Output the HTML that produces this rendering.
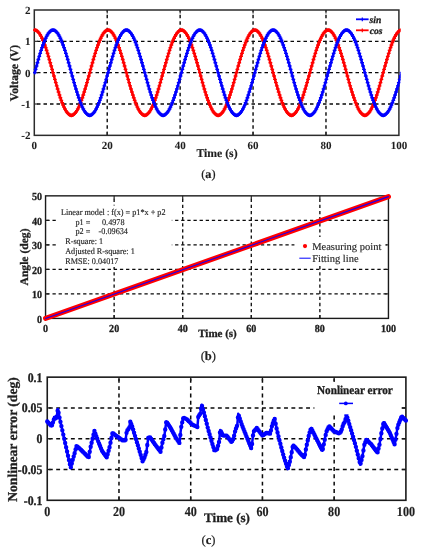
<!DOCTYPE html>
<html><head><meta charset="utf-8"><title>Figure</title>
<style>
html,body{margin:0;padding:0;background:#fff;}
body{width:421px;height:550px;overflow:hidden;}
svg{display:block;filter:blur(0.25px);}
text{font-family:'Liberation Serif', 'Times New Roman', serif;text-rendering:geometricPrecision;}
</style></head>
<body>
<svg width="421" height="550" viewBox="0 0 421 550">
<rect width="421" height="550" fill="#ffffff"/>
<defs><clipPath id="ca"><rect x="33" y="8" width="367.5" height="129"/></clipPath></defs>
<line x1="107.22" y1="135.35" x2="107.22" y2="10" stroke="#0a0a0a" stroke-width="1.4" stroke-dasharray="3.5 3.0" stroke-linecap="butt"/>
<line x1="180.14" y1="135.35" x2="180.14" y2="10" stroke="#0a0a0a" stroke-width="1.4" stroke-dasharray="3.5 3.0" stroke-linecap="butt"/>
<line x1="253.06" y1="135.35" x2="253.06" y2="10" stroke="#0a0a0a" stroke-width="1.4" stroke-dasharray="3.5 3.0" stroke-linecap="butt"/>
<line x1="325.98" y1="135.35" x2="325.98" y2="10" stroke="#0a0a0a" stroke-width="1.4" stroke-dasharray="3.5 3.0" stroke-linecap="butt"/>
<line x1="34.3" y1="41.34" x2="398.9" y2="41.34" stroke="#0a0a0a" stroke-width="1.4" stroke-dasharray="3.5 3.0" stroke-dashoffset="-2.7" stroke-linecap="butt"/>
<line x1="34.3" y1="72.67" x2="398.9" y2="72.67" stroke="#0a0a0a" stroke-width="1.4" stroke-dasharray="3.5 3.0" stroke-dashoffset="-2.7" stroke-linecap="butt"/>
<line x1="34.3" y1="104.01" x2="398.9" y2="104.01" stroke="#0a0a0a" stroke-width="1.4" stroke-dasharray="3.5 3.0" stroke-dashoffset="-2.7" stroke-linecap="butt"/>
<line x1="107.22" y1="135.35" x2="107.22" y2="131.75" stroke="#2c2c2c" stroke-width="1.2000000000000002" stroke-linecap="butt"/>
<line x1="107.22" y1="10" x2="107.22" y2="13.6" stroke="#2c2c2c" stroke-width="1.2000000000000002" stroke-linecap="butt"/>
<line x1="180.14" y1="135.35" x2="180.14" y2="131.75" stroke="#2c2c2c" stroke-width="1.2000000000000002" stroke-linecap="butt"/>
<line x1="180.14" y1="10" x2="180.14" y2="13.6" stroke="#2c2c2c" stroke-width="1.2000000000000002" stroke-linecap="butt"/>
<line x1="253.06" y1="135.35" x2="253.06" y2="131.75" stroke="#2c2c2c" stroke-width="1.2000000000000002" stroke-linecap="butt"/>
<line x1="253.06" y1="10" x2="253.06" y2="13.6" stroke="#2c2c2c" stroke-width="1.2000000000000002" stroke-linecap="butt"/>
<line x1="325.98" y1="135.35" x2="325.98" y2="131.75" stroke="#2c2c2c" stroke-width="1.2000000000000002" stroke-linecap="butt"/>
<line x1="325.98" y1="10" x2="325.98" y2="13.6" stroke="#2c2c2c" stroke-width="1.2000000000000002" stroke-linecap="butt"/>
<line x1="34.3" y1="41.34" x2="37.9" y2="41.34" stroke="#2c2c2c" stroke-width="1.2000000000000002" stroke-linecap="butt"/>
<line x1="398.9" y1="41.34" x2="395.3" y2="41.34" stroke="#2c2c2c" stroke-width="1.2000000000000002" stroke-linecap="butt"/>
<line x1="34.3" y1="72.67" x2="37.9" y2="72.67" stroke="#2c2c2c" stroke-width="1.2000000000000002" stroke-linecap="butt"/>
<line x1="398.9" y1="72.67" x2="395.3" y2="72.67" stroke="#2c2c2c" stroke-width="1.2000000000000002" stroke-linecap="butt"/>
<line x1="34.3" y1="104.01" x2="37.9" y2="104.01" stroke="#2c2c2c" stroke-width="1.2000000000000002" stroke-linecap="butt"/>
<line x1="398.9" y1="104.01" x2="395.3" y2="104.01" stroke="#2c2c2c" stroke-width="1.2000000000000002" stroke-linecap="butt"/>
<rect x="34.3" y="10" width="364.6" height="125.35" fill="none" stroke="#2c2c2c" stroke-width="1.5"/>
<g clip-path="url(#ca)">
<polyline points="34.69,30.06 35.61,30.19 36.52,30.58 37.44,31.23 38.36,32.14 39.28,33.3 40.19,34.7 41.11,36.34 42.03,38.2 42.94,40.27 43.86,42.54 44.78,45 45.7,47.62 46.61,50.41 47.53,53.33 48.45,56.37 49.36,59.51 50.28,62.73 51.2,66.01 52.12,69.33 53.03,72.67 53.95,76.02 54.87,79.34 55.78,82.62 56.7,85.84 57.62,88.98 58.54,92.02 59.45,94.94 60.37,97.73 61.29,100.35 62.2,102.81 63.12,105.08 64.04,107.15 64.96,109.01 65.87,110.65 66.79,112.05 67.71,113.21 68.62,114.12 69.54,114.77 70.46,115.16 71.38,115.29 72.29,115.16 73.21,114.77 74.13,114.12 75.04,113.21 75.96,112.05 76.88,110.65 77.8,109.01 78.71,107.15 79.63,105.08 80.55,102.81 81.46,100.35 82.38,97.73 83.3,94.94 84.22,92.02 85.13,88.98 86.05,85.84 86.97,82.62 87.88,79.34 88.8,76.02 89.72,72.68 90.64,69.33 91.55,66.01 92.47,62.73 93.39,59.51 94.3,56.37 95.22,53.33 96.14,50.41 97.06,47.62 97.97,45 98.89,42.54 99.81,40.27 100.72,38.2 101.64,36.34 102.56,34.7 103.48,33.3 104.39,32.14 105.31,31.23 106.23,30.58 107.14,30.19 108.06,30.06 108.98,30.19 109.9,30.58 110.81,31.23 111.73,32.14 112.65,33.3 113.56,34.7 114.48,36.34 115.4,38.2 116.32,40.27 117.23,42.54 118.15,45 119.07,47.62 119.98,50.41 120.9,53.33 121.82,56.37 122.74,59.51 123.65,62.73 124.57,66.01 125.49,69.33 126.41,72.67 127.32,76.02 128.24,79.34 129.16,82.62 130.07,85.84 130.99,88.98 131.91,92.02 132.83,94.94 133.74,97.73 134.66,100.35 135.58,102.81 136.49,105.08 137.41,107.15 138.33,109.01 139.25,110.65 140.16,112.05 141.08,113.21 142,114.12 142.91,114.77 143.83,115.16 144.75,115.29 145.67,115.16 146.58,114.77 147.5,114.12 148.42,113.21 149.33,112.05 150.25,110.65 151.17,109.01 152.09,107.15 153,105.08 153.92,102.81 154.84,100.35 155.75,97.73 156.67,94.94 157.59,92.02 158.51,88.98 159.42,85.84 160.34,82.62 161.26,79.34 162.17,76.02 163.09,72.68 164.01,69.33 164.93,66.01 165.84,62.73 166.76,59.51 167.68,56.37 168.59,53.33 169.51,50.41 170.43,47.62 171.35,45 172.26,42.54 173.18,40.27 174.1,38.2 175.01,36.34 175.93,34.7 176.85,33.3 177.77,32.14 178.68,31.23 179.6,30.58 180.52,30.19 181.43,30.06 182.35,30.19 183.27,30.58 184.19,31.23 185.1,32.14 186.02,33.3 186.94,34.7 187.85,36.34 188.77,38.2 189.69,40.27 190.61,42.54 191.52,45 192.44,47.62 193.36,50.41 194.27,53.33 195.19,56.37 196.11,59.51 197.03,62.73 197.94,66.01 198.86,69.33 199.78,72.67 200.69,76.02 201.61,79.34 202.53,82.62 203.45,85.84 204.36,88.98 205.28,92.02 206.2,94.94 207.11,97.73 208.03,100.35 208.95,102.81 209.87,105.08 210.78,107.15 211.7,109.01 212.62,110.65 213.53,112.05 214.45,113.21 215.37,114.12 216.29,114.77 217.2,115.16 218.12,115.29 219.04,115.16 219.95,114.77 220.87,114.12 221.79,113.21 222.71,112.05 223.62,110.65 224.54,109.01 225.46,107.15 226.37,105.08 227.29,102.81 228.21,100.35 229.13,97.73 230.04,94.94 230.96,92.02 231.88,88.98 232.79,85.84 233.71,82.62 234.63,79.34 235.55,76.02 236.46,72.67 237.38,69.33 238.3,66.01 239.21,62.73 240.13,59.51 241.05,56.37 241.97,53.33 242.88,50.41 243.8,47.62 244.72,45 245.63,42.54 246.55,40.27 247.47,38.2 248.39,36.34 249.3,34.7 250.22,33.3 251.14,32.14 252.05,31.23 252.97,30.58 253.89,30.19 254.81,30.06 255.72,30.19 256.64,30.58 257.56,31.23 258.47,32.14 259.39,33.3 260.31,34.7 261.23,36.34 262.14,38.2 263.06,40.27 263.98,42.54 264.89,45 265.81,47.62 266.73,50.41 267.65,53.33 268.56,56.37 269.48,59.51 270.4,62.73 271.31,66.01 272.23,69.33 273.15,72.67 274.07,76.02 274.98,79.34 275.9,82.62 276.82,85.84 277.73,88.98 278.65,92.02 279.57,94.94 280.49,97.73 281.4,100.35 282.32,102.81 283.24,105.08 284.15,107.15 285.07,109.01 285.99,110.65 286.91,112.05 287.82,113.21 288.74,114.12 289.66,114.77 290.57,115.16 291.49,115.29 292.41,115.16 293.33,114.77 294.24,114.12 295.16,113.21 296.08,112.05 296.99,110.65 297.91,109.01 298.83,107.15 299.75,105.08 300.66,102.81 301.58,100.35 302.5,97.73 303.41,94.94 304.33,92.02 305.25,88.98 306.17,85.84 307.08,82.62 308,79.34 308.92,76.02 309.83,72.68 310.75,69.33 311.67,66.01 312.59,62.73 313.5,59.51 314.42,56.37 315.34,53.33 316.26,50.41 317.17,47.62 318.09,45 319.01,42.54 319.92,40.27 320.84,38.2 321.76,36.34 322.68,34.7 323.59,33.3 324.51,32.14 325.43,31.23 326.34,30.58 327.26,30.19 328.18,30.06 329.1,30.19 330.01,30.58 330.93,31.23 331.85,32.14 332.76,33.3 333.68,34.7 334.6,36.34 335.52,38.2 336.43,40.27 337.35,42.54 338.27,45 339.18,47.62 340.1,50.41 341.02,53.33 341.94,56.37 342.85,59.51 343.77,62.73 344.69,66.01 345.6,69.33 346.52,72.68 347.44,76.02 348.36,79.34 349.27,82.62 350.19,85.84 351.11,88.98 352.02,92.02 352.94,94.94 353.86,97.73 354.78,100.35 355.69,102.81 356.61,105.08 357.53,107.15 358.44,109.01 359.36,110.65 360.28,112.05 361.2,113.21 362.11,114.12 363.03,114.77 363.95,115.16 364.86,115.29 365.78,115.16 366.7,114.77 367.62,114.12 368.53,113.21 369.45,112.05 370.37,110.65 371.28,109.01 372.2,107.15 373.12,105.08 374.04,102.81 374.95,100.35 375.87,97.73 376.79,94.94 377.7,92.02 378.62,88.98 379.54,85.84 380.46,82.62 381.37,79.34 382.29,76.02 383.21,72.67 384.12,69.33 385.04,66.01 385.96,62.73 386.88,59.51 387.79,56.37 388.71,53.33 389.63,50.41 390.54,47.62 391.46,45 392.38,42.54 393.3,40.27 394.21,38.2 395.13,36.34 396.05,34.7 396.96,33.3 397.88,32.14 398.8,31.23 399.72,30.58 400.63,30.19 401.55,30.06" fill="none" stroke="#ff0000" stroke-width="2.4" stroke-linejoin="round" stroke-linecap="round"/>
<path d="M32.79 30.06h3.8M34.69 28.16v3.8M33.71 30.19h3.8M35.61 28.29v3.8M34.62 30.58h3.8M36.52 28.68v3.8M35.54 31.23h3.8M37.44 29.33v3.8M36.46 32.14h3.8M38.36 30.24v3.8M37.38 33.3h3.8M39.28 31.4v3.8M38.29 34.7h3.8M40.19 32.8v3.8M39.21 36.34h3.8M41.11 34.44v3.8M40.13 38.2h3.8M42.03 36.3v3.8M41.04 40.27h3.8M42.94 38.37v3.8M41.96 42.54h3.8M43.86 40.64v3.8M42.88 45h3.8M44.78 43.1v3.8M43.8 47.62h3.8M45.7 45.72v3.8M44.71 50.41h3.8M46.61 48.51v3.8M45.63 53.33h3.8M47.53 51.43v3.8M46.55 56.37h3.8M48.45 54.47v3.8M47.46 59.51h3.8M49.36 57.61v3.8M48.38 62.73h3.8M50.28 60.83v3.8M49.3 66.01h3.8M51.2 64.11v3.8M50.22 69.33h3.8M52.12 67.43v3.8M51.13 72.67h3.8M53.03 70.77v3.8M52.05 76.02h3.8M53.95 74.12v3.8M52.97 79.34h3.8M54.87 77.44v3.8M53.88 82.62h3.8M55.78 80.72v3.8M54.8 85.84h3.8M56.7 83.94v3.8M55.72 88.98h3.8M57.62 87.08v3.8M56.64 92.02h3.8M58.54 90.12v3.8M57.55 94.94h3.8M59.45 93.04v3.8M58.47 97.73h3.8M60.37 95.83v3.8M59.39 100.35h3.8M61.29 98.45v3.8M60.3 102.81h3.8M62.2 100.91v3.8M61.22 105.08h3.8M63.12 103.18v3.8M62.14 107.15h3.8M64.04 105.25v3.8M63.06 109.01h3.8M64.96 107.11v3.8M63.97 110.65h3.8M65.87 108.75v3.8M64.89 112.05h3.8M66.79 110.15v3.8M65.81 113.21h3.8M67.71 111.31v3.8M66.72 114.12h3.8M68.62 112.22v3.8M67.64 114.77h3.8M69.54 112.87v3.8M68.56 115.16h3.8M70.46 113.26v3.8M69.48 115.29h3.8M71.38 113.39v3.8M70.39 115.16h3.8M72.29 113.26v3.8M71.31 114.77h3.8M73.21 112.87v3.8M72.23 114.12h3.8M74.13 112.22v3.8M73.14 113.21h3.8M75.04 111.31v3.8M74.06 112.05h3.8M75.96 110.15v3.8M74.98 110.65h3.8M76.88 108.75v3.8M75.9 109.01h3.8M77.8 107.11v3.8M76.81 107.15h3.8M78.71 105.25v3.8M77.73 105.08h3.8M79.63 103.18v3.8M78.65 102.81h3.8M80.55 100.91v3.8M79.56 100.35h3.8M81.46 98.45v3.8M80.48 97.73h3.8M82.38 95.83v3.8M81.4 94.94h3.8M83.3 93.04v3.8M82.32 92.02h3.8M84.22 90.12v3.8M83.23 88.98h3.8M85.13 87.08v3.8M84.15 85.84h3.8M86.05 83.94v3.8M85.07 82.62h3.8M86.97 80.72v3.8M85.98 79.34h3.8M87.88 77.44v3.8M86.9 76.02h3.8M88.8 74.12v3.8M87.82 72.68h3.8M89.72 70.78v3.8M88.74 69.33h3.8M90.64 67.43v3.8M89.65 66.01h3.8M91.55 64.11v3.8M90.57 62.73h3.8M92.47 60.83v3.8M91.49 59.51h3.8M93.39 57.61v3.8M92.4 56.37h3.8M94.3 54.47v3.8M93.32 53.33h3.8M95.22 51.43v3.8M94.24 50.41h3.8M96.14 48.51v3.8M95.16 47.62h3.8M97.06 45.72v3.8M96.07 45h3.8M97.97 43.1v3.8M96.99 42.54h3.8M98.89 40.64v3.8M97.91 40.27h3.8M99.81 38.37v3.8M98.82 38.2h3.8M100.72 36.3v3.8M99.74 36.34h3.8M101.64 34.44v3.8M100.66 34.7h3.8M102.56 32.8v3.8M101.58 33.3h3.8M103.48 31.4v3.8M102.49 32.14h3.8M104.39 30.24v3.8M103.41 31.23h3.8M105.31 29.33v3.8M104.33 30.58h3.8M106.23 28.68v3.8M105.24 30.19h3.8M107.14 28.29v3.8M106.16 30.06h3.8M108.06 28.16v3.8M107.08 30.19h3.8M108.98 28.29v3.8M108 30.58h3.8M109.9 28.68v3.8M108.91 31.23h3.8M110.81 29.33v3.8M109.83 32.14h3.8M111.73 30.24v3.8M110.75 33.3h3.8M112.65 31.4v3.8M111.66 34.7h3.8M113.56 32.8v3.8M112.58 36.34h3.8M114.48 34.44v3.8M113.5 38.2h3.8M115.4 36.3v3.8M114.42 40.27h3.8M116.32 38.37v3.8M115.33 42.54h3.8M117.23 40.64v3.8M116.25 45h3.8M118.15 43.1v3.8M117.17 47.62h3.8M119.07 45.72v3.8M118.08 50.41h3.8M119.98 48.51v3.8M119 53.33h3.8M120.9 51.43v3.8M119.92 56.37h3.8M121.82 54.47v3.8M120.84 59.51h3.8M122.74 57.61v3.8M121.75 62.73h3.8M123.65 60.83v3.8M122.67 66.01h3.8M124.57 64.11v3.8M123.59 69.33h3.8M125.49 67.43v3.8M124.5 72.67h3.8M126.41 70.77v3.8M125.42 76.02h3.8M127.32 74.12v3.8M126.34 79.34h3.8M128.24 77.44v3.8M127.26 82.62h3.8M129.16 80.72v3.8M128.17 85.84h3.8M130.07 83.94v3.8M129.09 88.98h3.8M130.99 87.08v3.8M130.01 92.02h3.8M131.91 90.12v3.8M130.93 94.94h3.8M132.83 93.04v3.8M131.84 97.73h3.8M133.74 95.83v3.8M132.76 100.35h3.8M134.66 98.45v3.8M133.68 102.81h3.8M135.58 100.91v3.8M134.59 105.08h3.8M136.49 103.18v3.8M135.51 107.15h3.8M137.41 105.25v3.8M136.43 109.01h3.8M138.33 107.11v3.8M137.35 110.65h3.8M139.25 108.75v3.8M138.26 112.05h3.8M140.16 110.15v3.8M139.18 113.21h3.8M141.08 111.31v3.8M140.1 114.12h3.8M142 112.22v3.8M141.01 114.77h3.8M142.91 112.87v3.8M141.93 115.16h3.8M143.83 113.26v3.8M142.85 115.29h3.8M144.75 113.39v3.8M143.77 115.16h3.8M145.67 113.26v3.8M144.68 114.77h3.8M146.58 112.87v3.8M145.6 114.12h3.8M147.5 112.22v3.8M146.52 113.21h3.8M148.42 111.31v3.8M147.43 112.05h3.8M149.33 110.15v3.8M148.35 110.65h3.8M150.25 108.75v3.8M149.27 109.01h3.8M151.17 107.11v3.8M150.19 107.15h3.8M152.09 105.25v3.8M151.1 105.08h3.8M153 103.18v3.8M152.02 102.81h3.8M153.92 100.91v3.8M152.94 100.35h3.8M154.84 98.45v3.8M153.85 97.73h3.8M155.75 95.83v3.8M154.77 94.94h3.8M156.67 93.04v3.8M155.69 92.02h3.8M157.59 90.12v3.8M156.61 88.98h3.8M158.51 87.08v3.8M157.52 85.84h3.8M159.42 83.94v3.8M158.44 82.62h3.8M160.34 80.72v3.8M159.36 79.34h3.8M161.26 77.44v3.8M160.27 76.02h3.8M162.17 74.12v3.8M161.19 72.68h3.8M163.09 70.78v3.8M162.11 69.33h3.8M164.01 67.43v3.8M163.03 66.01h3.8M164.93 64.11v3.8M163.94 62.73h3.8M165.84 60.83v3.8M164.86 59.51h3.8M166.76 57.61v3.8M165.78 56.37h3.8M167.68 54.47v3.8M166.69 53.33h3.8M168.59 51.43v3.8M167.61 50.41h3.8M169.51 48.51v3.8M168.53 47.62h3.8M170.43 45.72v3.8M169.45 45h3.8M171.35 43.1v3.8M170.36 42.54h3.8M172.26 40.64v3.8M171.28 40.27h3.8M173.18 38.37v3.8M172.2 38.2h3.8M174.1 36.3v3.8M173.11 36.34h3.8M175.01 34.44v3.8M174.03 34.7h3.8M175.93 32.8v3.8M174.95 33.3h3.8M176.85 31.4v3.8M175.87 32.14h3.8M177.77 30.24v3.8M176.78 31.23h3.8M178.68 29.33v3.8M177.7 30.58h3.8M179.6 28.68v3.8M178.62 30.19h3.8M180.52 28.29v3.8M179.53 30.06h3.8M181.43 28.16v3.8M180.45 30.19h3.8M182.35 28.29v3.8M181.37 30.58h3.8M183.27 28.68v3.8M182.29 31.23h3.8M184.19 29.33v3.8M183.2 32.14h3.8M185.1 30.24v3.8M184.12 33.3h3.8M186.02 31.4v3.8M185.04 34.7h3.8M186.94 32.8v3.8M185.95 36.34h3.8M187.85 34.44v3.8M186.87 38.2h3.8M188.77 36.3v3.8M187.79 40.27h3.8M189.69 38.37v3.8M188.71 42.54h3.8M190.61 40.64v3.8M189.62 45h3.8M191.52 43.1v3.8M190.54 47.62h3.8M192.44 45.72v3.8M191.46 50.41h3.8M193.36 48.51v3.8M192.37 53.33h3.8M194.27 51.43v3.8M193.29 56.37h3.8M195.19 54.47v3.8M194.21 59.51h3.8M196.11 57.61v3.8M195.13 62.73h3.8M197.03 60.83v3.8M196.04 66.01h3.8M197.94 64.11v3.8M196.96 69.33h3.8M198.86 67.43v3.8M197.88 72.67h3.8M199.78 70.77v3.8M198.79 76.02h3.8M200.69 74.12v3.8M199.71 79.34h3.8M201.61 77.44v3.8M200.63 82.62h3.8M202.53 80.72v3.8M201.55 85.84h3.8M203.45 83.94v3.8M202.46 88.98h3.8M204.36 87.08v3.8M203.38 92.02h3.8M205.28 90.12v3.8M204.3 94.94h3.8M206.2 93.04v3.8M205.21 97.73h3.8M207.11 95.83v3.8M206.13 100.35h3.8M208.03 98.45v3.8M207.05 102.81h3.8M208.95 100.91v3.8M207.97 105.08h3.8M209.87 103.18v3.8M208.88 107.15h3.8M210.78 105.25v3.8M209.8 109.01h3.8M211.7 107.11v3.8M210.72 110.65h3.8M212.62 108.75v3.8M211.63 112.05h3.8M213.53 110.15v3.8M212.55 113.21h3.8M214.45 111.31v3.8M213.47 114.12h3.8M215.37 112.22v3.8M214.39 114.77h3.8M216.29 112.87v3.8M215.3 115.16h3.8M217.2 113.26v3.8M216.22 115.29h3.8M218.12 113.39v3.8M217.14 115.16h3.8M219.04 113.26v3.8M218.05 114.77h3.8M219.95 112.87v3.8M218.97 114.12h3.8M220.87 112.22v3.8M219.89 113.21h3.8M221.79 111.31v3.8M220.81 112.05h3.8M222.71 110.15v3.8M221.72 110.65h3.8M223.62 108.75v3.8M222.64 109.01h3.8M224.54 107.11v3.8M223.56 107.15h3.8M225.46 105.25v3.8M224.47 105.08h3.8M226.37 103.18v3.8M225.39 102.81h3.8M227.29 100.91v3.8M226.31 100.35h3.8M228.21 98.45v3.8M227.23 97.73h3.8M229.13 95.83v3.8M228.14 94.94h3.8M230.04 93.04v3.8M229.06 92.02h3.8M230.96 90.12v3.8M229.98 88.98h3.8M231.88 87.08v3.8M230.89 85.84h3.8M232.79 83.94v3.8M231.81 82.62h3.8M233.71 80.72v3.8M232.73 79.34h3.8M234.63 77.44v3.8M233.65 76.02h3.8M235.55 74.12v3.8M234.56 72.67h3.8M236.46 70.77v3.8M235.48 69.33h3.8M237.38 67.43v3.8M236.4 66.01h3.8M238.3 64.11v3.8M237.31 62.73h3.8M239.21 60.83v3.8M238.23 59.51h3.8M240.13 57.61v3.8M239.15 56.37h3.8M241.05 54.47v3.8M240.07 53.33h3.8M241.97 51.43v3.8M240.98 50.41h3.8M242.88 48.51v3.8M241.9 47.62h3.8M243.8 45.72v3.8M242.82 45h3.8M244.72 43.1v3.8M243.73 42.54h3.8M245.63 40.64v3.8M244.65 40.27h3.8M246.55 38.37v3.8M245.57 38.2h3.8M247.47 36.3v3.8M246.49 36.34h3.8M248.39 34.44v3.8M247.4 34.7h3.8M249.3 32.8v3.8M248.32 33.3h3.8M250.22 31.4v3.8M249.24 32.14h3.8M251.14 30.24v3.8M250.15 31.23h3.8M252.05 29.33v3.8M251.07 30.58h3.8M252.97 28.68v3.8M251.99 30.19h3.8M253.89 28.29v3.8M252.91 30.06h3.8M254.81 28.16v3.8M253.82 30.19h3.8M255.72 28.29v3.8M254.74 30.58h3.8M256.64 28.68v3.8M255.66 31.23h3.8M257.56 29.33v3.8M256.57 32.14h3.8M258.47 30.24v3.8M257.49 33.3h3.8M259.39 31.4v3.8M258.41 34.7h3.8M260.31 32.8v3.8M259.33 36.34h3.8M261.23 34.44v3.8M260.24 38.2h3.8M262.14 36.3v3.8M261.16 40.27h3.8M263.06 38.37v3.8M262.08 42.54h3.8M263.98 40.64v3.8M262.99 45h3.8M264.89 43.1v3.8M263.91 47.62h3.8M265.81 45.72v3.8M264.83 50.41h3.8M266.73 48.51v3.8M265.75 53.33h3.8M267.65 51.43v3.8M266.66 56.37h3.8M268.56 54.47v3.8M267.58 59.51h3.8M269.48 57.61v3.8M268.5 62.73h3.8M270.4 60.83v3.8M269.41 66.01h3.8M271.31 64.11v3.8M270.33 69.33h3.8M272.23 67.43v3.8M271.25 72.67h3.8M273.15 70.77v3.8M272.17 76.02h3.8M274.07 74.12v3.8M273.08 79.34h3.8M274.98 77.44v3.8M274 82.62h3.8M275.9 80.72v3.8M274.92 85.84h3.8M276.82 83.94v3.8M275.83 88.98h3.8M277.73 87.08v3.8M276.75 92.02h3.8M278.65 90.12v3.8M277.67 94.94h3.8M279.57 93.04v3.8M278.59 97.73h3.8M280.49 95.83v3.8M279.5 100.35h3.8M281.4 98.45v3.8M280.42 102.81h3.8M282.32 100.91v3.8M281.34 105.08h3.8M283.24 103.18v3.8M282.25 107.15h3.8M284.15 105.25v3.8M283.17 109.01h3.8M285.07 107.11v3.8M284.09 110.65h3.8M285.99 108.75v3.8M285.01 112.05h3.8M286.91 110.15v3.8M285.92 113.21h3.8M287.82 111.31v3.8M286.84 114.12h3.8M288.74 112.22v3.8M287.76 114.77h3.8M289.66 112.87v3.8M288.67 115.16h3.8M290.57 113.26v3.8M289.59 115.29h3.8M291.49 113.39v3.8M290.51 115.16h3.8M292.41 113.26v3.8M291.43 114.77h3.8M293.33 112.87v3.8M292.34 114.12h3.8M294.24 112.22v3.8M293.26 113.21h3.8M295.16 111.31v3.8M294.18 112.05h3.8M296.08 110.15v3.8M295.09 110.65h3.8M296.99 108.75v3.8M296.01 109.01h3.8M297.91 107.11v3.8M296.93 107.15h3.8M298.83 105.25v3.8M297.85 105.08h3.8M299.75 103.18v3.8M298.76 102.81h3.8M300.66 100.91v3.8M299.68 100.35h3.8M301.58 98.45v3.8M300.6 97.73h3.8M302.5 95.83v3.8M301.51 94.94h3.8M303.41 93.04v3.8M302.43 92.02h3.8M304.33 90.12v3.8M303.35 88.98h3.8M305.25 87.08v3.8M304.27 85.84h3.8M306.17 83.94v3.8M305.18 82.62h3.8M307.08 80.72v3.8M306.1 79.34h3.8M308 77.44v3.8M307.02 76.02h3.8M308.92 74.12v3.8M307.94 72.68h3.8M309.83 70.78v3.8M308.85 69.33h3.8M310.75 67.43v3.8M309.77 66.01h3.8M311.67 64.11v3.8M310.69 62.73h3.8M312.59 60.83v3.8M311.6 59.51h3.8M313.5 57.61v3.8M312.52 56.37h3.8M314.42 54.47v3.8M313.44 53.33h3.8M315.34 51.43v3.8M314.36 50.41h3.8M316.26 48.51v3.8M315.27 47.62h3.8M317.17 45.72v3.8M316.19 45h3.8M318.09 43.1v3.8M317.11 42.54h3.8M319.01 40.64v3.8M318.02 40.27h3.8M319.92 38.37v3.8M318.94 38.2h3.8M320.84 36.3v3.8M319.86 36.34h3.8M321.76 34.44v3.8M320.78 34.7h3.8M322.68 32.8v3.8M321.69 33.3h3.8M323.59 31.4v3.8M322.61 32.14h3.8M324.51 30.24v3.8M323.53 31.23h3.8M325.43 29.33v3.8M324.44 30.58h3.8M326.34 28.68v3.8M325.36 30.19h3.8M327.26 28.29v3.8M326.28 30.06h3.8M328.18 28.16v3.8M327.2 30.19h3.8M329.1 28.29v3.8M328.11 30.58h3.8M330.01 28.68v3.8M329.03 31.23h3.8M330.93 29.33v3.8M329.95 32.14h3.8M331.85 30.24v3.8M330.86 33.3h3.8M332.76 31.4v3.8M331.78 34.7h3.8M333.68 32.8v3.8M332.7 36.34h3.8M334.6 34.44v3.8M333.62 38.2h3.8M335.52 36.3v3.8M334.53 40.27h3.8M336.43 38.37v3.8M335.45 42.54h3.8M337.35 40.64v3.8M336.37 45h3.8M338.27 43.1v3.8M337.28 47.62h3.8M339.18 45.72v3.8M338.2 50.41h3.8M340.1 48.51v3.8M339.12 53.33h3.8M341.02 51.43v3.8M340.04 56.37h3.8M341.94 54.47v3.8M340.95 59.51h3.8M342.85 57.61v3.8M341.87 62.73h3.8M343.77 60.83v3.8M342.79 66.01h3.8M344.69 64.11v3.8M343.7 69.33h3.8M345.6 67.43v3.8M344.62 72.68h3.8M346.52 70.78v3.8M345.54 76.02h3.8M347.44 74.12v3.8M346.46 79.34h3.8M348.36 77.44v3.8M347.37 82.62h3.8M349.27 80.72v3.8M348.29 85.84h3.8M350.19 83.94v3.8M349.21 88.98h3.8M351.11 87.08v3.8M350.12 92.02h3.8M352.02 90.12v3.8M351.04 94.94h3.8M352.94 93.04v3.8M351.96 97.73h3.8M353.86 95.83v3.8M352.88 100.35h3.8M354.78 98.45v3.8M353.79 102.81h3.8M355.69 100.91v3.8M354.71 105.08h3.8M356.61 103.18v3.8M355.63 107.15h3.8M357.53 105.25v3.8M356.54 109.01h3.8M358.44 107.11v3.8M357.46 110.65h3.8M359.36 108.75v3.8M358.38 112.05h3.8M360.28 110.15v3.8M359.3 113.21h3.8M361.2 111.31v3.8M360.21 114.12h3.8M362.11 112.22v3.8M361.13 114.77h3.8M363.03 112.87v3.8M362.05 115.16h3.8M363.95 113.26v3.8M362.96 115.29h3.8M364.86 113.39v3.8M363.88 115.16h3.8M365.78 113.26v3.8M364.8 114.77h3.8M366.7 112.87v3.8M365.72 114.12h3.8M367.62 112.22v3.8M366.63 113.21h3.8M368.53 111.31v3.8M367.55 112.05h3.8M369.45 110.15v3.8M368.47 110.65h3.8M370.37 108.75v3.8M369.38 109.01h3.8M371.28 107.11v3.8M370.3 107.15h3.8M372.2 105.25v3.8M371.22 105.08h3.8M373.12 103.18v3.8M372.14 102.81h3.8M374.04 100.91v3.8M373.05 100.35h3.8M374.95 98.45v3.8M373.97 97.73h3.8M375.87 95.83v3.8M374.89 94.94h3.8M376.79 93.04v3.8M375.8 92.02h3.8M377.7 90.12v3.8M376.72 88.98h3.8M378.62 87.08v3.8M377.64 85.84h3.8M379.54 83.94v3.8M378.56 82.62h3.8M380.46 80.72v3.8M379.47 79.34h3.8M381.37 77.44v3.8M380.39 76.02h3.8M382.29 74.12v3.8M381.31 72.67h3.8M383.21 70.77v3.8M382.22 69.33h3.8M384.12 67.43v3.8M383.14 66.01h3.8M385.04 64.11v3.8M384.06 62.73h3.8M385.96 60.83v3.8M384.98 59.51h3.8M386.88 57.61v3.8M385.89 56.37h3.8M387.79 54.47v3.8M386.81 53.33h3.8M388.71 51.43v3.8M387.73 50.41h3.8M389.63 48.51v3.8M388.64 47.62h3.8M390.54 45.72v3.8M389.56 45h3.8M391.46 43.1v3.8M390.48 42.54h3.8M392.38 40.64v3.8M391.4 40.27h3.8M393.3 38.37v3.8M392.31 38.2h3.8M394.21 36.3v3.8M393.23 36.34h3.8M395.13 34.44v3.8M394.15 34.7h3.8M396.05 32.8v3.8M395.06 33.3h3.8M396.96 31.4v3.8M395.98 32.14h3.8M397.88 30.24v3.8M396.9 31.23h3.8M398.8 29.33v3.8M397.82 30.58h3.8M399.72 28.68v3.8M398.73 30.19h3.8M400.63 28.29v3.8M399.65 30.06h3.8M401.55 28.16v3.8" stroke="#ff0000" stroke-width="1.4" fill="none"/>
<polyline points="34.69,72.67 35.61,69.33 36.52,66.01 37.44,62.73 38.36,59.51 39.28,56.37 40.19,53.33 41.11,50.41 42.03,47.62 42.94,45 43.86,42.54 44.78,40.27 45.7,38.2 46.61,36.34 47.53,34.7 48.45,33.3 49.36,32.14 50.28,31.23 51.2,30.58 52.12,30.19 53.03,30.06 53.95,30.19 54.87,30.58 55.78,31.23 56.7,32.14 57.62,33.3 58.54,34.7 59.45,36.34 60.37,38.2 61.29,40.27 62.2,42.54 63.12,45 64.04,47.62 64.96,50.41 65.87,53.33 66.79,56.37 67.71,59.51 68.62,62.73 69.54,66.01 70.46,69.33 71.38,72.67 72.29,76.02 73.21,79.34 74.13,82.62 75.04,85.84 75.96,88.98 76.88,92.02 77.8,94.94 78.71,97.73 79.63,100.35 80.55,102.81 81.46,105.08 82.38,107.15 83.3,109.01 84.22,110.65 85.13,112.05 86.05,113.21 86.97,114.12 87.88,114.77 88.8,115.16 89.72,115.29 90.64,115.16 91.55,114.77 92.47,114.12 93.39,113.21 94.3,112.05 95.22,110.65 96.14,109.01 97.06,107.15 97.97,105.08 98.89,102.81 99.81,100.35 100.72,97.73 101.64,94.94 102.56,92.02 103.48,88.98 104.39,85.84 105.31,82.62 106.23,79.34 107.14,76.02 108.06,72.68 108.98,69.33 109.9,66.01 110.81,62.73 111.73,59.51 112.65,56.37 113.56,53.33 114.48,50.41 115.4,47.62 116.32,45 117.23,42.54 118.15,40.27 119.07,38.2 119.98,36.34 120.9,34.7 121.82,33.3 122.74,32.14 123.65,31.23 124.57,30.58 125.49,30.19 126.41,30.06 127.32,30.19 128.24,30.58 129.16,31.23 130.07,32.14 130.99,33.3 131.91,34.7 132.83,36.34 133.74,38.2 134.66,40.27 135.58,42.54 136.49,45 137.41,47.62 138.33,50.41 139.25,53.33 140.16,56.37 141.08,59.51 142,62.73 142.91,66.01 143.83,69.33 144.75,72.67 145.67,76.02 146.58,79.34 147.5,82.62 148.42,85.84 149.33,88.98 150.25,92.02 151.17,94.94 152.09,97.73 153,100.35 153.92,102.81 154.84,105.08 155.75,107.15 156.67,109.01 157.59,110.65 158.51,112.05 159.42,113.21 160.34,114.12 161.26,114.77 162.17,115.16 163.09,115.29 164.01,115.16 164.93,114.77 165.84,114.12 166.76,113.21 167.68,112.05 168.59,110.65 169.51,109.01 170.43,107.15 171.35,105.08 172.26,102.81 173.18,100.35 174.1,97.73 175.01,94.94 175.93,92.02 176.85,88.98 177.77,85.84 178.68,82.62 179.6,79.34 180.52,76.02 181.43,72.68 182.35,69.33 183.27,66.01 184.19,62.73 185.1,59.51 186.02,56.37 186.94,53.33 187.85,50.41 188.77,47.62 189.69,45 190.61,42.54 191.52,40.27 192.44,38.2 193.36,36.34 194.27,34.7 195.19,33.3 196.11,32.14 197.03,31.23 197.94,30.58 198.86,30.19 199.78,30.06 200.69,30.19 201.61,30.58 202.53,31.23 203.45,32.14 204.36,33.3 205.28,34.7 206.2,36.34 207.11,38.2 208.03,40.27 208.95,42.54 209.87,45 210.78,47.62 211.7,50.41 212.62,53.33 213.53,56.37 214.45,59.51 215.37,62.73 216.29,66.01 217.2,69.33 218.12,72.67 219.04,76.02 219.95,79.34 220.87,82.62 221.79,85.84 222.71,88.98 223.62,92.02 224.54,94.94 225.46,97.73 226.37,100.35 227.29,102.81 228.21,105.08 229.13,107.15 230.04,109.01 230.96,110.65 231.88,112.05 232.79,113.21 233.71,114.12 234.63,114.77 235.55,115.16 236.46,115.29 237.38,115.16 238.3,114.77 239.21,114.12 240.13,113.21 241.05,112.05 241.97,110.65 242.88,109.01 243.8,107.15 244.72,105.08 245.63,102.81 246.55,100.35 247.47,97.73 248.39,94.94 249.3,92.02 250.22,88.98 251.14,85.84 252.05,82.62 252.97,79.34 253.89,76.02 254.81,72.68 255.72,69.33 256.64,66.01 257.56,62.73 258.47,59.51 259.39,56.37 260.31,53.33 261.23,50.41 262.14,47.62 263.06,45 263.98,42.54 264.89,40.27 265.81,38.2 266.73,36.34 267.65,34.7 268.56,33.3 269.48,32.14 270.4,31.23 271.31,30.58 272.23,30.19 273.15,30.06 274.07,30.19 274.98,30.58 275.9,31.23 276.82,32.14 277.73,33.3 278.65,34.7 279.57,36.34 280.49,38.2 281.4,40.27 282.32,42.54 283.24,45 284.15,47.62 285.07,50.41 285.99,53.33 286.91,56.37 287.82,59.51 288.74,62.73 289.66,66.01 290.57,69.33 291.49,72.67 292.41,76.02 293.33,79.34 294.24,82.62 295.16,85.84 296.08,88.98 296.99,92.02 297.91,94.94 298.83,97.73 299.75,100.35 300.66,102.81 301.58,105.08 302.5,107.15 303.41,109.01 304.33,110.65 305.25,112.05 306.17,113.21 307.08,114.12 308,114.77 308.92,115.16 309.83,115.29 310.75,115.16 311.67,114.77 312.59,114.12 313.5,113.21 314.42,112.05 315.34,110.65 316.26,109.01 317.17,107.15 318.09,105.08 319.01,102.81 319.92,100.35 320.84,97.73 321.76,94.94 322.68,92.02 323.59,88.98 324.51,85.84 325.43,82.62 326.34,79.34 327.26,76.02 328.18,72.68 329.1,69.33 330.01,66.01 330.93,62.73 331.85,59.51 332.76,56.37 333.68,53.33 334.6,50.41 335.52,47.62 336.43,45 337.35,42.54 338.27,40.27 339.18,38.2 340.1,36.34 341.02,34.7 341.94,33.3 342.85,32.14 343.77,31.23 344.69,30.58 345.6,30.19 346.52,30.06 347.44,30.19 348.36,30.58 349.27,31.23 350.19,32.14 351.11,33.3 352.02,34.7 352.94,36.34 353.86,38.2 354.78,40.27 355.69,42.54 356.61,45 357.53,47.62 358.44,50.41 359.36,53.33 360.28,56.37 361.2,59.51 362.11,62.73 363.03,66.01 363.95,69.33 364.86,72.67 365.78,76.02 366.7,79.34 367.62,82.62 368.53,85.84 369.45,88.98 370.37,92.02 371.28,94.94 372.2,97.73 373.12,100.35 374.04,102.81 374.95,105.08 375.87,107.15 376.79,109.01 377.7,110.65 378.62,112.05 379.54,113.21 380.46,114.12 381.37,114.77 382.29,115.16 383.21,115.29 384.12,115.16 385.04,114.77 385.96,114.12 386.88,113.21 387.79,112.05 388.71,110.65 389.63,109.01 390.54,107.15 391.46,105.08 392.38,102.81 393.3,100.35 394.21,97.73 395.13,94.94 396.05,92.02 396.96,88.98 397.88,85.84 398.8,82.62 399.72,79.34 400.63,76.02 401.55,72.68" fill="none" stroke="#0000ff" stroke-width="2.4" stroke-linejoin="round" stroke-linecap="round"/>
<path d="M32.79 72.67h3.8M34.69 70.77v3.8M33.71 69.33h3.8M35.61 67.43v3.8M34.62 66.01h3.8M36.52 64.11v3.8M35.54 62.73h3.8M37.44 60.83v3.8M36.46 59.51h3.8M38.36 57.61v3.8M37.38 56.37h3.8M39.28 54.47v3.8M38.29 53.33h3.8M40.19 51.43v3.8M39.21 50.41h3.8M41.11 48.51v3.8M40.13 47.62h3.8M42.03 45.72v3.8M41.04 45h3.8M42.94 43.1v3.8M41.96 42.54h3.8M43.86 40.64v3.8M42.88 40.27h3.8M44.78 38.37v3.8M43.8 38.2h3.8M45.7 36.3v3.8M44.71 36.34h3.8M46.61 34.44v3.8M45.63 34.7h3.8M47.53 32.8v3.8M46.55 33.3h3.8M48.45 31.4v3.8M47.46 32.14h3.8M49.36 30.24v3.8M48.38 31.23h3.8M50.28 29.33v3.8M49.3 30.58h3.8M51.2 28.68v3.8M50.22 30.19h3.8M52.12 28.29v3.8M51.13 30.06h3.8M53.03 28.16v3.8M52.05 30.19h3.8M53.95 28.29v3.8M52.97 30.58h3.8M54.87 28.68v3.8M53.88 31.23h3.8M55.78 29.33v3.8M54.8 32.14h3.8M56.7 30.24v3.8M55.72 33.3h3.8M57.62 31.4v3.8M56.64 34.7h3.8M58.54 32.8v3.8M57.55 36.34h3.8M59.45 34.44v3.8M58.47 38.2h3.8M60.37 36.3v3.8M59.39 40.27h3.8M61.29 38.37v3.8M60.3 42.54h3.8M62.2 40.64v3.8M61.22 45h3.8M63.12 43.1v3.8M62.14 47.62h3.8M64.04 45.72v3.8M63.06 50.41h3.8M64.96 48.51v3.8M63.97 53.33h3.8M65.87 51.43v3.8M64.89 56.37h3.8M66.79 54.47v3.8M65.81 59.51h3.8M67.71 57.61v3.8M66.72 62.73h3.8M68.62 60.83v3.8M67.64 66.01h3.8M69.54 64.11v3.8M68.56 69.33h3.8M70.46 67.43v3.8M69.48 72.67h3.8M71.38 70.77v3.8M70.39 76.02h3.8M72.29 74.12v3.8M71.31 79.34h3.8M73.21 77.44v3.8M72.23 82.62h3.8M74.13 80.72v3.8M73.14 85.84h3.8M75.04 83.94v3.8M74.06 88.98h3.8M75.96 87.08v3.8M74.98 92.02h3.8M76.88 90.12v3.8M75.9 94.94h3.8M77.8 93.04v3.8M76.81 97.73h3.8M78.71 95.83v3.8M77.73 100.35h3.8M79.63 98.45v3.8M78.65 102.81h3.8M80.55 100.91v3.8M79.56 105.08h3.8M81.46 103.18v3.8M80.48 107.15h3.8M82.38 105.25v3.8M81.4 109.01h3.8M83.3 107.11v3.8M82.32 110.65h3.8M84.22 108.75v3.8M83.23 112.05h3.8M85.13 110.15v3.8M84.15 113.21h3.8M86.05 111.31v3.8M85.07 114.12h3.8M86.97 112.22v3.8M85.98 114.77h3.8M87.88 112.87v3.8M86.9 115.16h3.8M88.8 113.26v3.8M87.82 115.29h3.8M89.72 113.39v3.8M88.74 115.16h3.8M90.64 113.26v3.8M89.65 114.77h3.8M91.55 112.87v3.8M90.57 114.12h3.8M92.47 112.22v3.8M91.49 113.21h3.8M93.39 111.31v3.8M92.4 112.05h3.8M94.3 110.15v3.8M93.32 110.65h3.8M95.22 108.75v3.8M94.24 109.01h3.8M96.14 107.11v3.8M95.16 107.15h3.8M97.06 105.25v3.8M96.07 105.08h3.8M97.97 103.18v3.8M96.99 102.81h3.8M98.89 100.91v3.8M97.91 100.35h3.8M99.81 98.45v3.8M98.82 97.73h3.8M100.72 95.83v3.8M99.74 94.94h3.8M101.64 93.04v3.8M100.66 92.02h3.8M102.56 90.12v3.8M101.58 88.98h3.8M103.48 87.08v3.8M102.49 85.84h3.8M104.39 83.94v3.8M103.41 82.62h3.8M105.31 80.72v3.8M104.33 79.34h3.8M106.23 77.44v3.8M105.24 76.02h3.8M107.14 74.12v3.8M106.16 72.68h3.8M108.06 70.78v3.8M107.08 69.33h3.8M108.98 67.43v3.8M108 66.01h3.8M109.9 64.11v3.8M108.91 62.73h3.8M110.81 60.83v3.8M109.83 59.51h3.8M111.73 57.61v3.8M110.75 56.37h3.8M112.65 54.47v3.8M111.66 53.33h3.8M113.56 51.43v3.8M112.58 50.41h3.8M114.48 48.51v3.8M113.5 47.62h3.8M115.4 45.72v3.8M114.42 45h3.8M116.32 43.1v3.8M115.33 42.54h3.8M117.23 40.64v3.8M116.25 40.27h3.8M118.15 38.37v3.8M117.17 38.2h3.8M119.07 36.3v3.8M118.08 36.34h3.8M119.98 34.44v3.8M119 34.7h3.8M120.9 32.8v3.8M119.92 33.3h3.8M121.82 31.4v3.8M120.84 32.14h3.8M122.74 30.24v3.8M121.75 31.23h3.8M123.65 29.33v3.8M122.67 30.58h3.8M124.57 28.68v3.8M123.59 30.19h3.8M125.49 28.29v3.8M124.5 30.06h3.8M126.41 28.16v3.8M125.42 30.19h3.8M127.32 28.29v3.8M126.34 30.58h3.8M128.24 28.68v3.8M127.26 31.23h3.8M129.16 29.33v3.8M128.17 32.14h3.8M130.07 30.24v3.8M129.09 33.3h3.8M130.99 31.4v3.8M130.01 34.7h3.8M131.91 32.8v3.8M130.93 36.34h3.8M132.83 34.44v3.8M131.84 38.2h3.8M133.74 36.3v3.8M132.76 40.27h3.8M134.66 38.37v3.8M133.68 42.54h3.8M135.58 40.64v3.8M134.59 45h3.8M136.49 43.1v3.8M135.51 47.62h3.8M137.41 45.72v3.8M136.43 50.41h3.8M138.33 48.51v3.8M137.35 53.33h3.8M139.25 51.43v3.8M138.26 56.37h3.8M140.16 54.47v3.8M139.18 59.51h3.8M141.08 57.61v3.8M140.1 62.73h3.8M142 60.83v3.8M141.01 66.01h3.8M142.91 64.11v3.8M141.93 69.33h3.8M143.83 67.43v3.8M142.85 72.67h3.8M144.75 70.77v3.8M143.77 76.02h3.8M145.67 74.12v3.8M144.68 79.34h3.8M146.58 77.44v3.8M145.6 82.62h3.8M147.5 80.72v3.8M146.52 85.84h3.8M148.42 83.94v3.8M147.43 88.98h3.8M149.33 87.08v3.8M148.35 92.02h3.8M150.25 90.12v3.8M149.27 94.94h3.8M151.17 93.04v3.8M150.19 97.73h3.8M152.09 95.83v3.8M151.1 100.35h3.8M153 98.45v3.8M152.02 102.81h3.8M153.92 100.91v3.8M152.94 105.08h3.8M154.84 103.18v3.8M153.85 107.15h3.8M155.75 105.25v3.8M154.77 109.01h3.8M156.67 107.11v3.8M155.69 110.65h3.8M157.59 108.75v3.8M156.61 112.05h3.8M158.51 110.15v3.8M157.52 113.21h3.8M159.42 111.31v3.8M158.44 114.12h3.8M160.34 112.22v3.8M159.36 114.77h3.8M161.26 112.87v3.8M160.27 115.16h3.8M162.17 113.26v3.8M161.19 115.29h3.8M163.09 113.39v3.8M162.11 115.16h3.8M164.01 113.26v3.8M163.03 114.77h3.8M164.93 112.87v3.8M163.94 114.12h3.8M165.84 112.22v3.8M164.86 113.21h3.8M166.76 111.31v3.8M165.78 112.05h3.8M167.68 110.15v3.8M166.69 110.65h3.8M168.59 108.75v3.8M167.61 109.01h3.8M169.51 107.11v3.8M168.53 107.15h3.8M170.43 105.25v3.8M169.45 105.08h3.8M171.35 103.18v3.8M170.36 102.81h3.8M172.26 100.91v3.8M171.28 100.35h3.8M173.18 98.45v3.8M172.2 97.73h3.8M174.1 95.83v3.8M173.11 94.94h3.8M175.01 93.04v3.8M174.03 92.02h3.8M175.93 90.12v3.8M174.95 88.98h3.8M176.85 87.08v3.8M175.87 85.84h3.8M177.77 83.94v3.8M176.78 82.62h3.8M178.68 80.72v3.8M177.7 79.34h3.8M179.6 77.44v3.8M178.62 76.02h3.8M180.52 74.12v3.8M179.53 72.68h3.8M181.43 70.78v3.8M180.45 69.33h3.8M182.35 67.43v3.8M181.37 66.01h3.8M183.27 64.11v3.8M182.29 62.73h3.8M184.19 60.83v3.8M183.2 59.51h3.8M185.1 57.61v3.8M184.12 56.37h3.8M186.02 54.47v3.8M185.04 53.33h3.8M186.94 51.43v3.8M185.95 50.41h3.8M187.85 48.51v3.8M186.87 47.62h3.8M188.77 45.72v3.8M187.79 45h3.8M189.69 43.1v3.8M188.71 42.54h3.8M190.61 40.64v3.8M189.62 40.27h3.8M191.52 38.37v3.8M190.54 38.2h3.8M192.44 36.3v3.8M191.46 36.34h3.8M193.36 34.44v3.8M192.37 34.7h3.8M194.27 32.8v3.8M193.29 33.3h3.8M195.19 31.4v3.8M194.21 32.14h3.8M196.11 30.24v3.8M195.13 31.23h3.8M197.03 29.33v3.8M196.04 30.58h3.8M197.94 28.68v3.8M196.96 30.19h3.8M198.86 28.29v3.8M197.88 30.06h3.8M199.78 28.16v3.8M198.79 30.19h3.8M200.69 28.29v3.8M199.71 30.58h3.8M201.61 28.68v3.8M200.63 31.23h3.8M202.53 29.33v3.8M201.55 32.14h3.8M203.45 30.24v3.8M202.46 33.3h3.8M204.36 31.4v3.8M203.38 34.7h3.8M205.28 32.8v3.8M204.3 36.34h3.8M206.2 34.44v3.8M205.21 38.2h3.8M207.11 36.3v3.8M206.13 40.27h3.8M208.03 38.37v3.8M207.05 42.54h3.8M208.95 40.64v3.8M207.97 45h3.8M209.87 43.1v3.8M208.88 47.62h3.8M210.78 45.72v3.8M209.8 50.41h3.8M211.7 48.51v3.8M210.72 53.33h3.8M212.62 51.43v3.8M211.63 56.37h3.8M213.53 54.47v3.8M212.55 59.51h3.8M214.45 57.61v3.8M213.47 62.73h3.8M215.37 60.83v3.8M214.39 66.01h3.8M216.29 64.11v3.8M215.3 69.33h3.8M217.2 67.43v3.8M216.22 72.67h3.8M218.12 70.77v3.8M217.14 76.02h3.8M219.04 74.12v3.8M218.05 79.34h3.8M219.95 77.44v3.8M218.97 82.62h3.8M220.87 80.72v3.8M219.89 85.84h3.8M221.79 83.94v3.8M220.81 88.98h3.8M222.71 87.08v3.8M221.72 92.02h3.8M223.62 90.12v3.8M222.64 94.94h3.8M224.54 93.04v3.8M223.56 97.73h3.8M225.46 95.83v3.8M224.47 100.35h3.8M226.37 98.45v3.8M225.39 102.81h3.8M227.29 100.91v3.8M226.31 105.08h3.8M228.21 103.18v3.8M227.23 107.15h3.8M229.13 105.25v3.8M228.14 109.01h3.8M230.04 107.11v3.8M229.06 110.65h3.8M230.96 108.75v3.8M229.98 112.05h3.8M231.88 110.15v3.8M230.89 113.21h3.8M232.79 111.31v3.8M231.81 114.12h3.8M233.71 112.22v3.8M232.73 114.77h3.8M234.63 112.87v3.8M233.65 115.16h3.8M235.55 113.26v3.8M234.56 115.29h3.8M236.46 113.39v3.8M235.48 115.16h3.8M237.38 113.26v3.8M236.4 114.77h3.8M238.3 112.87v3.8M237.31 114.12h3.8M239.21 112.22v3.8M238.23 113.21h3.8M240.13 111.31v3.8M239.15 112.05h3.8M241.05 110.15v3.8M240.07 110.65h3.8M241.97 108.75v3.8M240.98 109.01h3.8M242.88 107.11v3.8M241.9 107.15h3.8M243.8 105.25v3.8M242.82 105.08h3.8M244.72 103.18v3.8M243.73 102.81h3.8M245.63 100.91v3.8M244.65 100.35h3.8M246.55 98.45v3.8M245.57 97.73h3.8M247.47 95.83v3.8M246.49 94.94h3.8M248.39 93.04v3.8M247.4 92.02h3.8M249.3 90.12v3.8M248.32 88.98h3.8M250.22 87.08v3.8M249.24 85.84h3.8M251.14 83.94v3.8M250.15 82.62h3.8M252.05 80.72v3.8M251.07 79.34h3.8M252.97 77.44v3.8M251.99 76.02h3.8M253.89 74.12v3.8M252.91 72.68h3.8M254.81 70.78v3.8M253.82 69.33h3.8M255.72 67.43v3.8M254.74 66.01h3.8M256.64 64.11v3.8M255.66 62.73h3.8M257.56 60.83v3.8M256.57 59.51h3.8M258.47 57.61v3.8M257.49 56.37h3.8M259.39 54.47v3.8M258.41 53.33h3.8M260.31 51.43v3.8M259.33 50.41h3.8M261.23 48.51v3.8M260.24 47.62h3.8M262.14 45.72v3.8M261.16 45h3.8M263.06 43.1v3.8M262.08 42.54h3.8M263.98 40.64v3.8M262.99 40.27h3.8M264.89 38.37v3.8M263.91 38.2h3.8M265.81 36.3v3.8M264.83 36.34h3.8M266.73 34.44v3.8M265.75 34.7h3.8M267.65 32.8v3.8M266.66 33.3h3.8M268.56 31.4v3.8M267.58 32.14h3.8M269.48 30.24v3.8M268.5 31.23h3.8M270.4 29.33v3.8M269.41 30.58h3.8M271.31 28.68v3.8M270.33 30.19h3.8M272.23 28.29v3.8M271.25 30.06h3.8M273.15 28.16v3.8M272.17 30.19h3.8M274.07 28.29v3.8M273.08 30.58h3.8M274.98 28.68v3.8M274 31.23h3.8M275.9 29.33v3.8M274.92 32.14h3.8M276.82 30.24v3.8M275.83 33.3h3.8M277.73 31.4v3.8M276.75 34.7h3.8M278.65 32.8v3.8M277.67 36.34h3.8M279.57 34.44v3.8M278.59 38.2h3.8M280.49 36.3v3.8M279.5 40.27h3.8M281.4 38.37v3.8M280.42 42.54h3.8M282.32 40.64v3.8M281.34 45h3.8M283.24 43.1v3.8M282.25 47.62h3.8M284.15 45.72v3.8M283.17 50.41h3.8M285.07 48.51v3.8M284.09 53.33h3.8M285.99 51.43v3.8M285.01 56.37h3.8M286.91 54.47v3.8M285.92 59.51h3.8M287.82 57.61v3.8M286.84 62.73h3.8M288.74 60.83v3.8M287.76 66.01h3.8M289.66 64.11v3.8M288.67 69.33h3.8M290.57 67.43v3.8M289.59 72.67h3.8M291.49 70.77v3.8M290.51 76.02h3.8M292.41 74.12v3.8M291.43 79.34h3.8M293.33 77.44v3.8M292.34 82.62h3.8M294.24 80.72v3.8M293.26 85.84h3.8M295.16 83.94v3.8M294.18 88.98h3.8M296.08 87.08v3.8M295.09 92.02h3.8M296.99 90.12v3.8M296.01 94.94h3.8M297.91 93.04v3.8M296.93 97.73h3.8M298.83 95.83v3.8M297.85 100.35h3.8M299.75 98.45v3.8M298.76 102.81h3.8M300.66 100.91v3.8M299.68 105.08h3.8M301.58 103.18v3.8M300.6 107.15h3.8M302.5 105.25v3.8M301.51 109.01h3.8M303.41 107.11v3.8M302.43 110.65h3.8M304.33 108.75v3.8M303.35 112.05h3.8M305.25 110.15v3.8M304.27 113.21h3.8M306.17 111.31v3.8M305.18 114.12h3.8M307.08 112.22v3.8M306.1 114.77h3.8M308 112.87v3.8M307.02 115.16h3.8M308.92 113.26v3.8M307.94 115.29h3.8M309.83 113.39v3.8M308.85 115.16h3.8M310.75 113.26v3.8M309.77 114.77h3.8M311.67 112.87v3.8M310.69 114.12h3.8M312.59 112.22v3.8M311.6 113.21h3.8M313.5 111.31v3.8M312.52 112.05h3.8M314.42 110.15v3.8M313.44 110.65h3.8M315.34 108.75v3.8M314.36 109.01h3.8M316.26 107.11v3.8M315.27 107.15h3.8M317.17 105.25v3.8M316.19 105.08h3.8M318.09 103.18v3.8M317.11 102.81h3.8M319.01 100.91v3.8M318.02 100.35h3.8M319.92 98.45v3.8M318.94 97.73h3.8M320.84 95.83v3.8M319.86 94.94h3.8M321.76 93.04v3.8M320.78 92.02h3.8M322.68 90.12v3.8M321.69 88.98h3.8M323.59 87.08v3.8M322.61 85.84h3.8M324.51 83.94v3.8M323.53 82.62h3.8M325.43 80.72v3.8M324.44 79.34h3.8M326.34 77.44v3.8M325.36 76.02h3.8M327.26 74.12v3.8M326.28 72.68h3.8M328.18 70.78v3.8M327.2 69.33h3.8M329.1 67.43v3.8M328.11 66.01h3.8M330.01 64.11v3.8M329.03 62.73h3.8M330.93 60.83v3.8M329.95 59.51h3.8M331.85 57.61v3.8M330.86 56.37h3.8M332.76 54.47v3.8M331.78 53.33h3.8M333.68 51.43v3.8M332.7 50.41h3.8M334.6 48.51v3.8M333.62 47.62h3.8M335.52 45.72v3.8M334.53 45h3.8M336.43 43.1v3.8M335.45 42.54h3.8M337.35 40.64v3.8M336.37 40.27h3.8M338.27 38.37v3.8M337.28 38.2h3.8M339.18 36.3v3.8M338.2 36.34h3.8M340.1 34.44v3.8M339.12 34.7h3.8M341.02 32.8v3.8M340.04 33.3h3.8M341.94 31.4v3.8M340.95 32.14h3.8M342.85 30.24v3.8M341.87 31.23h3.8M343.77 29.33v3.8M342.79 30.58h3.8M344.69 28.68v3.8M343.7 30.19h3.8M345.6 28.29v3.8M344.62 30.06h3.8M346.52 28.16v3.8M345.54 30.19h3.8M347.44 28.29v3.8M346.46 30.58h3.8M348.36 28.68v3.8M347.37 31.23h3.8M349.27 29.33v3.8M348.29 32.14h3.8M350.19 30.24v3.8M349.21 33.3h3.8M351.11 31.4v3.8M350.12 34.7h3.8M352.02 32.8v3.8M351.04 36.34h3.8M352.94 34.44v3.8M351.96 38.2h3.8M353.86 36.3v3.8M352.88 40.27h3.8M354.78 38.37v3.8M353.79 42.54h3.8M355.69 40.64v3.8M354.71 45h3.8M356.61 43.1v3.8M355.63 47.62h3.8M357.53 45.72v3.8M356.54 50.41h3.8M358.44 48.51v3.8M357.46 53.33h3.8M359.36 51.43v3.8M358.38 56.37h3.8M360.28 54.47v3.8M359.3 59.51h3.8M361.2 57.61v3.8M360.21 62.73h3.8M362.11 60.83v3.8M361.13 66.01h3.8M363.03 64.11v3.8M362.05 69.33h3.8M363.95 67.43v3.8M362.96 72.67h3.8M364.86 70.77v3.8M363.88 76.02h3.8M365.78 74.12v3.8M364.8 79.34h3.8M366.7 77.44v3.8M365.72 82.62h3.8M367.62 80.72v3.8M366.63 85.84h3.8M368.53 83.94v3.8M367.55 88.98h3.8M369.45 87.08v3.8M368.47 92.02h3.8M370.37 90.12v3.8M369.38 94.94h3.8M371.28 93.04v3.8M370.3 97.73h3.8M372.2 95.83v3.8M371.22 100.35h3.8M373.12 98.45v3.8M372.14 102.81h3.8M374.04 100.91v3.8M373.05 105.08h3.8M374.95 103.18v3.8M373.97 107.15h3.8M375.87 105.25v3.8M374.89 109.01h3.8M376.79 107.11v3.8M375.8 110.65h3.8M377.7 108.75v3.8M376.72 112.05h3.8M378.62 110.15v3.8M377.64 113.21h3.8M379.54 111.31v3.8M378.56 114.12h3.8M380.46 112.22v3.8M379.47 114.77h3.8M381.37 112.87v3.8M380.39 115.16h3.8M382.29 113.26v3.8M381.31 115.29h3.8M383.21 113.39v3.8M382.22 115.16h3.8M384.12 113.26v3.8M383.14 114.77h3.8M385.04 112.87v3.8M384.06 114.12h3.8M385.96 112.22v3.8M384.98 113.21h3.8M386.88 111.31v3.8M385.89 112.05h3.8M387.79 110.15v3.8M386.81 110.65h3.8M388.71 108.75v3.8M387.73 109.01h3.8M389.63 107.11v3.8M388.64 107.15h3.8M390.54 105.25v3.8M389.56 105.08h3.8M391.46 103.18v3.8M390.48 102.81h3.8M392.38 100.91v3.8M391.4 100.35h3.8M393.3 98.45v3.8M392.31 97.73h3.8M394.21 95.83v3.8M393.23 94.94h3.8M395.13 93.04v3.8M394.15 92.02h3.8M396.05 90.12v3.8M395.06 88.98h3.8M396.96 87.08v3.8M395.98 85.84h3.8M397.88 83.94v3.8M396.9 82.62h3.8M398.8 80.72v3.8M397.82 79.34h3.8M399.72 77.44v3.8M398.73 76.02h3.8M400.63 74.12v3.8M399.65 72.68h3.8M401.55 70.78v3.8" stroke="#0000ff" stroke-width="1.4" fill="none"/>
</g>
<text x="34.3" y="149" font-size="11" font-weight="bold" font-style="normal" text-anchor="middle" fill="#1e1e1e" stroke="#1e1e1e" stroke-width="0.05">0</text>
<text x="107.22" y="149" font-size="11" font-weight="bold" font-style="normal" text-anchor="middle" fill="#1e1e1e" stroke="#1e1e1e" stroke-width="0.05">20</text>
<text x="180.14" y="149" font-size="11" font-weight="bold" font-style="normal" text-anchor="middle" fill="#1e1e1e" stroke="#1e1e1e" stroke-width="0.05">40</text>
<text x="253.06" y="149" font-size="11" font-weight="bold" font-style="normal" text-anchor="middle" fill="#1e1e1e" stroke="#1e1e1e" stroke-width="0.05">60</text>
<text x="325.98" y="149" font-size="11" font-weight="bold" font-style="normal" text-anchor="middle" fill="#1e1e1e" stroke="#1e1e1e" stroke-width="0.05">80</text>
<text x="398.9" y="149" font-size="11" font-weight="bold" font-style="normal" text-anchor="middle" fill="#1e1e1e" stroke="#1e1e1e" stroke-width="0.05">100</text>
<text x="30.5" y="13.9" font-size="11" font-weight="bold" font-style="normal" text-anchor="end" fill="#1e1e1e" stroke="#1e1e1e" stroke-width="0.05">2</text>
<text x="30.5" y="45.24" font-size="11" font-weight="bold" font-style="normal" text-anchor="end" fill="#1e1e1e" stroke="#1e1e1e" stroke-width="0.05">1</text>
<text x="30.5" y="76.58" font-size="11" font-weight="bold" font-style="normal" text-anchor="end" fill="#1e1e1e" stroke="#1e1e1e" stroke-width="0.05">0</text>
<text x="30.5" y="107.91" font-size="11" font-weight="bold" font-style="normal" text-anchor="end" fill="#1e1e1e" stroke="#1e1e1e" stroke-width="0.05">-1</text>
<text x="30.5" y="139.25" font-size="11" font-weight="bold" font-style="normal" text-anchor="end" fill="#1e1e1e" stroke="#1e1e1e" stroke-width="0.05">-2</text>
<text x="217" y="157.2" font-size="11.75" font-weight="bold" font-style="normal" text-anchor="middle" fill="#1e1e1e" stroke="#1e1e1e" stroke-width="0.15">Time (s)</text>
<text x="17.6" y="73" font-size="11.7" font-weight="bold" font-style="normal" text-anchor="middle" fill="#1e1e1e" stroke="#1e1e1e" stroke-width="0.3" transform="rotate(-90 17.6 73)">Voltage (V)</text>
<text x="208.4" y="178.2" font-size="12.3" font-weight="normal" font-style="normal" text-anchor="middle" fill="#1e1e1e" stroke="#1e1e1e" stroke-width="0.2">(<tspan font-weight="bold">a</tspan>)</text>
<line x1="356" y1="19.3" x2="368.6" y2="19.3" stroke="#0000ff" stroke-width="1.8" stroke-linecap="butt"/>
<line x1="362.3" y1="17.4" x2="362.3" y2="21.2" stroke="#0000ff" stroke-width="1.2" stroke-linecap="butt"/>
<line x1="356" y1="30.3" x2="368.6" y2="30.3" stroke="#ff0000" stroke-width="1.8" stroke-linecap="butt"/>
<line x1="362.3" y1="28.4" x2="362.3" y2="32.2" stroke="#ff0000" stroke-width="1.2" stroke-linecap="butt"/>
<text x="369.5" y="22.6" font-size="9.6" font-weight="bold" font-style="italic" text-anchor="start" fill="#1e1e1e" stroke="#1e1e1e" stroke-width="0.3">sin</text>
<text x="369.8" y="33.8" font-size="9.6" font-weight="bold" font-style="italic" text-anchor="start" fill="#1e1e1e" stroke="#1e1e1e" stroke-width="0.3">cos</text>
<line x1="114.13" y1="318.4" x2="114.13" y2="195.85" stroke="#0a0a0a" stroke-width="1.3" stroke-dasharray="3.3 2.83" stroke-linecap="butt"/>
<line x1="182.71" y1="318.4" x2="182.71" y2="195.85" stroke="#0a0a0a" stroke-width="1.3" stroke-dasharray="3.3 2.83" stroke-linecap="butt"/>
<line x1="251.29" y1="318.4" x2="251.29" y2="195.85" stroke="#0a0a0a" stroke-width="1.3" stroke-dasharray="3.3 2.83" stroke-linecap="butt"/>
<line x1="319.87" y1="318.4" x2="319.87" y2="195.85" stroke="#0a0a0a" stroke-width="1.3" stroke-dasharray="3.3 2.83" stroke-linecap="butt"/>
<line x1="45.55" y1="293.89" x2="388.45" y2="293.89" stroke="#0a0a0a" stroke-width="1.3" stroke-dasharray="3.3 2.83" stroke-dashoffset="-0.8" stroke-linecap="butt"/>
<line x1="45.55" y1="269.38" x2="388.45" y2="269.38" stroke="#0a0a0a" stroke-width="1.3" stroke-dasharray="3.3 2.83" stroke-dashoffset="-0.8" stroke-linecap="butt"/>
<line x1="45.55" y1="244.87" x2="388.45" y2="244.87" stroke="#0a0a0a" stroke-width="1.3" stroke-dasharray="3.3 2.83" stroke-dashoffset="-0.8" stroke-linecap="butt"/>
<line x1="45.55" y1="220.36" x2="388.45" y2="220.36" stroke="#0a0a0a" stroke-width="1.3" stroke-dasharray="3.3 2.83" stroke-dashoffset="-0.8" stroke-linecap="butt"/>
<line x1="114.13" y1="318.4" x2="114.13" y2="315" stroke="#1a1a1a" stroke-width="1.1199999999999999" stroke-linecap="butt"/>
<line x1="114.13" y1="195.85" x2="114.13" y2="199.25" stroke="#1a1a1a" stroke-width="1.1199999999999999" stroke-linecap="butt"/>
<line x1="182.71" y1="318.4" x2="182.71" y2="315" stroke="#1a1a1a" stroke-width="1.1199999999999999" stroke-linecap="butt"/>
<line x1="182.71" y1="195.85" x2="182.71" y2="199.25" stroke="#1a1a1a" stroke-width="1.1199999999999999" stroke-linecap="butt"/>
<line x1="251.29" y1="318.4" x2="251.29" y2="315" stroke="#1a1a1a" stroke-width="1.1199999999999999" stroke-linecap="butt"/>
<line x1="251.29" y1="195.85" x2="251.29" y2="199.25" stroke="#1a1a1a" stroke-width="1.1199999999999999" stroke-linecap="butt"/>
<line x1="319.87" y1="318.4" x2="319.87" y2="315" stroke="#1a1a1a" stroke-width="1.1199999999999999" stroke-linecap="butt"/>
<line x1="319.87" y1="195.85" x2="319.87" y2="199.25" stroke="#1a1a1a" stroke-width="1.1199999999999999" stroke-linecap="butt"/>
<line x1="45.55" y1="293.89" x2="48.95" y2="293.89" stroke="#1a1a1a" stroke-width="1.1199999999999999" stroke-linecap="butt"/>
<line x1="388.45" y1="293.89" x2="385.05" y2="293.89" stroke="#1a1a1a" stroke-width="1.1199999999999999" stroke-linecap="butt"/>
<line x1="45.55" y1="269.38" x2="48.95" y2="269.38" stroke="#1a1a1a" stroke-width="1.1199999999999999" stroke-linecap="butt"/>
<line x1="388.45" y1="269.38" x2="385.05" y2="269.38" stroke="#1a1a1a" stroke-width="1.1199999999999999" stroke-linecap="butt"/>
<line x1="45.55" y1="244.87" x2="48.95" y2="244.87" stroke="#1a1a1a" stroke-width="1.1199999999999999" stroke-linecap="butt"/>
<line x1="388.45" y1="244.87" x2="385.05" y2="244.87" stroke="#1a1a1a" stroke-width="1.1199999999999999" stroke-linecap="butt"/>
<line x1="45.55" y1="220.36" x2="48.95" y2="220.36" stroke="#1a1a1a" stroke-width="1.1199999999999999" stroke-linecap="butt"/>
<line x1="388.45" y1="220.36" x2="385.05" y2="220.36" stroke="#1a1a1a" stroke-width="1.1199999999999999" stroke-linecap="butt"/>
<rect x="45.55" y="195.85" width="342.9" height="122.55" fill="none" stroke="#1a1a1a" stroke-width="1.4"/>
<polyline points="45.55,318.4 388.45,196.63" fill="none" stroke="#ff0000" stroke-width="5.0" stroke-linejoin="round" stroke-linecap="round"/>
<polyline points="45.55,318.4 388.45,196.63" fill="none" stroke="#1a00f0" stroke-width="1.1" stroke-linejoin="round" stroke-linecap="round"/>
<rect x="57.8" y="205.5" width="114" height="61.5" fill="#ffffff"/>
<text x="61" y="214.8" font-size="8.2" font-weight="normal" font-style="normal" text-anchor="start" fill="#1e1e1e" stroke="#1e1e1e" stroke-width="0.15" transform="translate(61 214.8) scale(1 1.07) translate(-61 -214.8)">Linear model : f(x) = p1*x + p2</text>
<text x="75.4" y="224.6" font-size="8.2" font-weight="normal" font-style="normal" text-anchor="start" fill="#1e1e1e" stroke="#1e1e1e" stroke-width="0.15" transform="translate(75.4 224.6) scale(1 1.07) translate(-75.4 -224.6)">p1 =</text>
<text x="102" y="224.6" font-size="8.2" font-weight="normal" font-style="normal" text-anchor="start" fill="#1e1e1e" stroke="#1e1e1e" stroke-width="0.15" transform="translate(102 224.6) scale(1 1.07) translate(-102 -224.6)">0.4978</text>
<text x="75.4" y="234.4" font-size="8.2" font-weight="normal" font-style="normal" text-anchor="start" fill="#1e1e1e" stroke="#1e1e1e" stroke-width="0.15" transform="translate(75.4 234.4) scale(1 1.07) translate(-75.4 -234.4)">p2 =</text>
<text x="98.6" y="234.4" font-size="8.2" font-weight="normal" font-style="normal" text-anchor="start" fill="#1e1e1e" stroke="#1e1e1e" stroke-width="0.15" transform="translate(98.6 234.4) scale(1 1.07) translate(-98.6 -234.4)">-0.09634</text>
<text x="65.2" y="244.2" font-size="8.2" font-weight="normal" font-style="normal" text-anchor="start" fill="#1e1e1e" stroke="#1e1e1e" stroke-width="0.15" transform="translate(65.2 244.2) scale(1 1.07) translate(-65.2 -244.2)">R-square: 1</text>
<text x="65.2" y="254" font-size="8.2" font-weight="normal" font-style="normal" text-anchor="start" fill="#1e1e1e" stroke="#1e1e1e" stroke-width="0.15" transform="translate(65.2 254) scale(1 1.07) translate(-65.2 -254)">Adjusted R-square: 1</text>
<text x="65.2" y="263.8" font-size="8.2" font-weight="normal" font-style="normal" text-anchor="start" fill="#1e1e1e" stroke="#1e1e1e" stroke-width="0.15" transform="translate(65.2 263.8) scale(1 1.07) translate(-65.2 -263.8)">RMSE: 0.04017</text>
<rect x="294.5" y="237" width="91" height="29" fill="#ffffff"/>
<circle cx="305" cy="246.1" r="2.1" fill="#ff0000"/>
<line x1="299.3" y1="258.2" x2="310.7" y2="258.2" stroke="#0000ff" stroke-width="1.0" stroke-linecap="butt"/>
<text x="312.2" y="249.8" font-size="10.5" font-weight="normal" font-style="normal" text-anchor="start" fill="#1e1e1e" stroke="#1e1e1e" stroke-width="0.15">Measuring point</text>
<text x="312.2" y="262.2" font-size="10.5" font-weight="normal" font-style="normal" text-anchor="start" fill="#1e1e1e" stroke="#1e1e1e" stroke-width="0.15">Fitting line</text>
<text x="45.55" y="331.9" font-size="10.1" font-weight="bold" font-style="normal" text-anchor="middle" fill="#1e1e1e" stroke="#1e1e1e" stroke-width="0.3" transform="translate(45.55 331.9) scale(1 1.07) translate(-45.55 -331.9)">0</text>
<text x="114.13" y="331.9" font-size="10.1" font-weight="bold" font-style="normal" text-anchor="middle" fill="#1e1e1e" stroke="#1e1e1e" stroke-width="0.3" transform="translate(114.13 331.9) scale(1 1.07) translate(-114.13 -331.9)">20</text>
<text x="182.71" y="331.9" font-size="10.1" font-weight="bold" font-style="normal" text-anchor="middle" fill="#1e1e1e" stroke="#1e1e1e" stroke-width="0.3" transform="translate(182.71 331.9) scale(1 1.07) translate(-182.71 -331.9)">40</text>
<text x="251.29" y="331.9" font-size="10.1" font-weight="bold" font-style="normal" text-anchor="middle" fill="#1e1e1e" stroke="#1e1e1e" stroke-width="0.3" transform="translate(251.29 331.9) scale(1 1.07) translate(-251.29 -331.9)">60</text>
<text x="319.87" y="331.9" font-size="10.1" font-weight="bold" font-style="normal" text-anchor="middle" fill="#1e1e1e" stroke="#1e1e1e" stroke-width="0.3" transform="translate(319.87 331.9) scale(1 1.07) translate(-319.87 -331.9)">80</text>
<text x="388.45" y="331.9" font-size="10.1" font-weight="bold" font-style="normal" text-anchor="middle" fill="#1e1e1e" stroke="#1e1e1e" stroke-width="0.3" transform="translate(388.45 331.9) scale(1 1.07) translate(-388.45 -331.9)">100</text>
<text x="42.1" y="322.6" font-size="10.1" font-weight="bold" font-style="normal" text-anchor="end" fill="#1e1e1e" stroke="#1e1e1e" stroke-width="0.3" transform="translate(42.1 322.6) scale(1 1.07) translate(-42.1 -322.6)">0</text>
<text x="42.1" y="298.09" font-size="10.1" font-weight="bold" font-style="normal" text-anchor="end" fill="#1e1e1e" stroke="#1e1e1e" stroke-width="0.3" transform="translate(42.1 298.09) scale(1 1.07) translate(-42.1 -298.09)">10</text>
<text x="42.1" y="273.58" font-size="10.1" font-weight="bold" font-style="normal" text-anchor="end" fill="#1e1e1e" stroke="#1e1e1e" stroke-width="0.3" transform="translate(42.1 273.58) scale(1 1.07) translate(-42.1 -273.58)">20</text>
<text x="42.1" y="249.07" font-size="10.1" font-weight="bold" font-style="normal" text-anchor="end" fill="#1e1e1e" stroke="#1e1e1e" stroke-width="0.3" transform="translate(42.1 249.07) scale(1 1.07) translate(-42.1 -249.07)">30</text>
<text x="42.1" y="224.56" font-size="10.1" font-weight="bold" font-style="normal" text-anchor="end" fill="#1e1e1e" stroke="#1e1e1e" stroke-width="0.3" transform="translate(42.1 224.56) scale(1 1.07) translate(-42.1 -224.56)">40</text>
<text x="42.1" y="200.05" font-size="10.1" font-weight="bold" font-style="normal" text-anchor="end" fill="#1e1e1e" stroke="#1e1e1e" stroke-width="0.3" transform="translate(42.1 200.05) scale(1 1.07) translate(-42.1 -200.05)">50</text>
<text x="217.5" y="337.4" font-size="11" font-weight="bold" font-style="normal" text-anchor="middle" fill="#1e1e1e" stroke="#1e1e1e" stroke-width="0.3">Time (s)</text>
<text x="27.6" y="257" font-size="11.6" font-weight="bold" font-style="normal" text-anchor="middle" fill="#1e1e1e" stroke="#1e1e1e" stroke-width="0.3" transform="rotate(-90 27.6 257)">Angle (deg)</text>
<text x="208.3" y="359.8" font-size="12.5" font-weight="normal" font-style="normal" text-anchor="middle" fill="#1e1e1e" stroke="#1e1e1e" stroke-width="0.2">(<tspan font-weight="bold">b</tspan>)</text>
<line x1="118.98" y1="500.3" x2="118.98" y2="377.15" stroke="#0a0a0a" stroke-width="1.5" stroke-dasharray="3.9 3.45" stroke-linecap="butt"/>
<line x1="190.71" y1="500.3" x2="190.71" y2="377.15" stroke="#0a0a0a" stroke-width="1.5" stroke-dasharray="3.9 3.45" stroke-linecap="butt"/>
<line x1="262.44" y1="500.3" x2="262.44" y2="377.15" stroke="#0a0a0a" stroke-width="1.5" stroke-dasharray="3.9 3.45" stroke-linecap="butt"/>
<line x1="334.17" y1="500.3" x2="334.17" y2="377.15" stroke="#0a0a0a" stroke-width="1.5" stroke-dasharray="3.9 3.45" stroke-linecap="butt"/>
<line x1="47.25" y1="407.94" x2="405.9" y2="407.94" stroke="#0a0a0a" stroke-width="1.5" stroke-dasharray="3.9 3.45" stroke-dashoffset="-1.6" stroke-linecap="butt"/>
<line x1="47.25" y1="438.72" x2="405.9" y2="438.72" stroke="#0a0a0a" stroke-width="1.5" stroke-dasharray="3.9 3.45" stroke-dashoffset="-1.6" stroke-linecap="butt"/>
<line x1="47.25" y1="469.51" x2="405.9" y2="469.51" stroke="#0a0a0a" stroke-width="1.5" stroke-dasharray="3.9 3.45" stroke-dashoffset="-1.6" stroke-linecap="butt"/>
<line x1="118.98" y1="500.3" x2="118.98" y2="496.5" stroke="#1a1a1a" stroke-width="1.2800000000000002" stroke-linecap="butt"/>
<line x1="118.98" y1="377.15" x2="118.98" y2="380.95" stroke="#1a1a1a" stroke-width="1.2800000000000002" stroke-linecap="butt"/>
<line x1="190.71" y1="500.3" x2="190.71" y2="496.5" stroke="#1a1a1a" stroke-width="1.2800000000000002" stroke-linecap="butt"/>
<line x1="190.71" y1="377.15" x2="190.71" y2="380.95" stroke="#1a1a1a" stroke-width="1.2800000000000002" stroke-linecap="butt"/>
<line x1="262.44" y1="500.3" x2="262.44" y2="496.5" stroke="#1a1a1a" stroke-width="1.2800000000000002" stroke-linecap="butt"/>
<line x1="262.44" y1="377.15" x2="262.44" y2="380.95" stroke="#1a1a1a" stroke-width="1.2800000000000002" stroke-linecap="butt"/>
<line x1="334.17" y1="500.3" x2="334.17" y2="496.5" stroke="#1a1a1a" stroke-width="1.2800000000000002" stroke-linecap="butt"/>
<line x1="334.17" y1="377.15" x2="334.17" y2="380.95" stroke="#1a1a1a" stroke-width="1.2800000000000002" stroke-linecap="butt"/>
<line x1="47.25" y1="407.94" x2="51.05" y2="407.94" stroke="#1a1a1a" stroke-width="1.2800000000000002" stroke-linecap="butt"/>
<line x1="405.9" y1="407.94" x2="402.1" y2="407.94" stroke="#1a1a1a" stroke-width="1.2800000000000002" stroke-linecap="butt"/>
<line x1="47.25" y1="438.72" x2="51.05" y2="438.72" stroke="#1a1a1a" stroke-width="1.2800000000000002" stroke-linecap="butt"/>
<line x1="405.9" y1="438.72" x2="402.1" y2="438.72" stroke="#1a1a1a" stroke-width="1.2800000000000002" stroke-linecap="butt"/>
<line x1="47.25" y1="469.51" x2="51.05" y2="469.51" stroke="#1a1a1a" stroke-width="1.2800000000000002" stroke-linecap="butt"/>
<line x1="405.9" y1="469.51" x2="402.1" y2="469.51" stroke="#1a1a1a" stroke-width="1.2800000000000002" stroke-linecap="butt"/>
<rect x="47.25" y="377.15" width="358.65" height="123.15" fill="none" stroke="#1a1a1a" stroke-width="1.6"/>
<polyline points="47.1,421.4 51.7,426.1 54.5,417.6 56.4,418.5 57.9,409 59.3,416.6 70.7,467.9 72.6,460.3 74.5,453.7 76.4,446 79.2,448 83,451.8 88.7,457.5 90.6,447 94.4,430.9 98.2,441.3 102,450.8 106.8,457.5 109.6,447 112.5,432.8 117.2,436.6 118.8,437.5 122.6,440.4 125.5,440.4 126.8,430.9 129.3,428 130.2,421.4 132.1,426.1 137.8,445.1 142.6,461.3 144.5,457.5 146.4,451.8 148.3,437.5 150.2,437.5 154.9,444.2 160.6,451.8 162.5,442.3 164.4,435.6 166.3,421.4 170.1,427.1 175.8,437.5 179.6,443.2 180.6,431.8 181.5,425.2 183.4,417.6 187.2,419.5 191,423.3 191.7,424.2 197.4,427.1 198.3,416.6 200.2,413.8 201.7,404.8 204,412.8 207.8,428 211.6,441.3 214.5,450.8 217.3,448.9 219.2,441.3 220.2,429.9 223,435.6 226.8,435.6 231.6,442.3 233.5,438.5 235.4,429.9 237.3,425.2 238.2,413.8 242,425.2 247.7,439.4 251.5,448.9 253.4,431.8 256.8,428 261,433.7 262.6,435.6 266.4,432.8 270.2,433.7 272.1,425.2 274.6,418.5 276.9,429.9 279.7,441.3 283.5,455.6 287.7,468.9 290.2,460.3 293,445.1 295.9,448 300.6,453.7 304.4,457.5 306.3,447 309.2,433.7 311.1,428 315.8,437.5 322.5,450.8 324.4,441.3 326.3,431.8 329.1,426.1 334.1,431.4 339.1,433.4 341.2,431.4 343.2,424.3 345.2,421.3 346.2,414.2 348.2,420.3 351.2,430.4 355.3,444.5 360.3,464.7 362.4,456.6 364.4,444.5 366.4,439.5 371.4,444.5 377.5,452.6 379.5,444.5 381.5,432.4 383.6,422.3 389.6,432.4 394.7,444.5 396.7,432.4 397.7,426.3 401.7,416.2 405.7,420.3" fill="none" stroke="#0000ff" stroke-width="2.5" stroke-linejoin="round" stroke-linecap="round"/>
<path d="M45.05,421.55a2.2,2.2 0 1,0 4.4,0a2.2,2.2 0 1,0 -4.4,0M45.99,422.52a2.2,2.2 0 1,0 4.4,0a2.2,2.2 0 1,0 -4.4,0M46.94,423.48a2.2,2.2 0 1,0 4.4,0a2.2,2.2 0 1,0 -4.4,0M47.88,424.45a2.2,2.2 0 1,0 4.4,0a2.2,2.2 0 1,0 -4.4,0M48.83,425.41a2.2,2.2 0 1,0 4.4,0a2.2,2.2 0 1,0 -4.4,0M49.77,425.28a2.2,2.2 0 1,0 4.4,0a2.2,2.2 0 1,0 -4.4,0M50.71,422.42a2.2,2.2 0 1,0 4.4,0a2.2,2.2 0 1,0 -4.4,0M51.66,419.55a2.2,2.2 0 1,0 4.4,0a2.2,2.2 0 1,0 -4.4,0M52.6,417.74a2.2,2.2 0 1,0 4.4,0a2.2,2.2 0 1,0 -4.4,0M53.54,418.19a2.2,2.2 0 1,0 4.4,0a2.2,2.2 0 1,0 -4.4,0M54.49,416.68a2.2,2.2 0 1,0 4.4,0a2.2,2.2 0 1,0 -4.4,0M55.43,410.7a2.2,2.2 0 1,0 4.4,0a2.2,2.2 0 1,0 -4.4,0M56.38,412.67a2.2,2.2 0 1,0 4.4,0a2.2,2.2 0 1,0 -4.4,0M57.32,417.59a2.2,2.2 0 1,0 4.4,0a2.2,2.2 0 1,0 -4.4,0M58.26,421.84a2.2,2.2 0 1,0 4.4,0a2.2,2.2 0 1,0 -4.4,0M59.21,426.08a2.2,2.2 0 1,0 4.4,0a2.2,2.2 0 1,0 -4.4,0M60.15,430.33a2.2,2.2 0 1,0 4.4,0a2.2,2.2 0 1,0 -4.4,0M61.09,434.58a2.2,2.2 0 1,0 4.4,0a2.2,2.2 0 1,0 -4.4,0M62.04,438.82a2.2,2.2 0 1,0 4.4,0a2.2,2.2 0 1,0 -4.4,0M62.98,443.07a2.2,2.2 0 1,0 4.4,0a2.2,2.2 0 1,0 -4.4,0M63.93,447.32a2.2,2.2 0 1,0 4.4,0a2.2,2.2 0 1,0 -4.4,0M64.87,451.57a2.2,2.2 0 1,0 4.4,0a2.2,2.2 0 1,0 -4.4,0M65.81,455.81a2.2,2.2 0 1,0 4.4,0a2.2,2.2 0 1,0 -4.4,0M66.76,460.06a2.2,2.2 0 1,0 4.4,0a2.2,2.2 0 1,0 -4.4,0M67.7,464.31a2.2,2.2 0 1,0 4.4,0a2.2,2.2 0 1,0 -4.4,0M68.65,467.32a2.2,2.2 0 1,0 4.4,0a2.2,2.2 0 1,0 -4.4,0M69.59,463.54a2.2,2.2 0 1,0 4.4,0a2.2,2.2 0 1,0 -4.4,0M70.53,459.84a2.2,2.2 0 1,0 4.4,0a2.2,2.2 0 1,0 -4.4,0M71.48,456.56a2.2,2.2 0 1,0 4.4,0a2.2,2.2 0 1,0 -4.4,0M72.42,453.21a2.2,2.2 0 1,0 4.4,0a2.2,2.2 0 1,0 -4.4,0M73.36,449.39a2.2,2.2 0 1,0 4.4,0a2.2,2.2 0 1,0 -4.4,0M74.31,446.08a2.2,2.2 0 1,0 4.4,0a2.2,2.2 0 1,0 -4.4,0M75.25,446.75a2.2,2.2 0 1,0 4.4,0a2.2,2.2 0 1,0 -4.4,0M76.2,447.43a2.2,2.2 0 1,0 4.4,0a2.2,2.2 0 1,0 -4.4,0M77.14,448.14a2.2,2.2 0 1,0 4.4,0a2.2,2.2 0 1,0 -4.4,0M78.08,449.08a2.2,2.2 0 1,0 4.4,0a2.2,2.2 0 1,0 -4.4,0M79.03,450.03a2.2,2.2 0 1,0 4.4,0a2.2,2.2 0 1,0 -4.4,0M79.97,450.97a2.2,2.2 0 1,0 4.4,0a2.2,2.2 0 1,0 -4.4,0M80.92,451.92a2.2,2.2 0 1,0 4.4,0a2.2,2.2 0 1,0 -4.4,0M81.86,452.86a2.2,2.2 0 1,0 4.4,0a2.2,2.2 0 1,0 -4.4,0M82.8,453.8a2.2,2.2 0 1,0 4.4,0a2.2,2.2 0 1,0 -4.4,0M83.75,454.75a2.2,2.2 0 1,0 4.4,0a2.2,2.2 0 1,0 -4.4,0M84.69,455.69a2.2,2.2 0 1,0 4.4,0a2.2,2.2 0 1,0 -4.4,0M85.63,456.63a2.2,2.2 0 1,0 4.4,0a2.2,2.2 0 1,0 -4.4,0M86.58,457.07a2.2,2.2 0 1,0 4.4,0a2.2,2.2 0 1,0 -4.4,0M87.52,451.85a2.2,2.2 0 1,0 4.4,0a2.2,2.2 0 1,0 -4.4,0M88.47,446.72a2.2,2.2 0 1,0 4.4,0a2.2,2.2 0 1,0 -4.4,0M89.41,442.72a2.2,2.2 0 1,0 4.4,0a2.2,2.2 0 1,0 -4.4,0M90.35,438.72a2.2,2.2 0 1,0 4.4,0a2.2,2.2 0 1,0 -4.4,0M91.3,434.73a2.2,2.2 0 1,0 4.4,0a2.2,2.2 0 1,0 -4.4,0M92.24,431.01a2.2,2.2 0 1,0 4.4,0a2.2,2.2 0 1,0 -4.4,0M93.18,433.59a2.2,2.2 0 1,0 4.4,0a2.2,2.2 0 1,0 -4.4,0M94.13,436.18a2.2,2.2 0 1,0 4.4,0a2.2,2.2 0 1,0 -4.4,0M95.07,438.76a2.2,2.2 0 1,0 4.4,0a2.2,2.2 0 1,0 -4.4,0M96.02,441.34a2.2,2.2 0 1,0 4.4,0a2.2,2.2 0 1,0 -4.4,0M96.96,443.7a2.2,2.2 0 1,0 4.4,0a2.2,2.2 0 1,0 -4.4,0M97.9,446.06a2.2,2.2 0 1,0 4.4,0a2.2,2.2 0 1,0 -4.4,0M98.85,448.42a2.2,2.2 0 1,0 4.4,0a2.2,2.2 0 1,0 -4.4,0M99.79,450.78a2.2,2.2 0 1,0 4.4,0a2.2,2.2 0 1,0 -4.4,0M100.74,452.11a2.2,2.2 0 1,0 4.4,0a2.2,2.2 0 1,0 -4.4,0M101.68,453.42a2.2,2.2 0 1,0 4.4,0a2.2,2.2 0 1,0 -4.4,0M102.62,454.74a2.2,2.2 0 1,0 4.4,0a2.2,2.2 0 1,0 -4.4,0M103.57,456.06a2.2,2.2 0 1,0 4.4,0a2.2,2.2 0 1,0 -4.4,0M104.51,457.37a2.2,2.2 0 1,0 4.4,0a2.2,2.2 0 1,0 -4.4,0M105.45,454.3a2.2,2.2 0 1,0 4.4,0a2.2,2.2 0 1,0 -4.4,0M106.4,450.76a2.2,2.2 0 1,0 4.4,0a2.2,2.2 0 1,0 -4.4,0M107.34,447.22a2.2,2.2 0 1,0 4.4,0a2.2,2.2 0 1,0 -4.4,0M108.29,442.66a2.2,2.2 0 1,0 4.4,0a2.2,2.2 0 1,0 -4.4,0M109.23,438.04a2.2,2.2 0 1,0 4.4,0a2.2,2.2 0 1,0 -4.4,0M110.17,433.42a2.2,2.2 0 1,0 4.4,0a2.2,2.2 0 1,0 -4.4,0M111.12,433.46a2.2,2.2 0 1,0 4.4,0a2.2,2.2 0 1,0 -4.4,0M112.06,434.22a2.2,2.2 0 1,0 4.4,0a2.2,2.2 0 1,0 -4.4,0M113,434.99a2.2,2.2 0 1,0 4.4,0a2.2,2.2 0 1,0 -4.4,0M113.95,435.75a2.2,2.2 0 1,0 4.4,0a2.2,2.2 0 1,0 -4.4,0M114.89,436.51a2.2,2.2 0 1,0 4.4,0a2.2,2.2 0 1,0 -4.4,0M115.84,437.07a2.2,2.2 0 1,0 4.4,0a2.2,2.2 0 1,0 -4.4,0M116.78,437.64a2.2,2.2 0 1,0 4.4,0a2.2,2.2 0 1,0 -4.4,0M117.72,438.36a2.2,2.2 0 1,0 4.4,0a2.2,2.2 0 1,0 -4.4,0M118.67,439.08a2.2,2.2 0 1,0 4.4,0a2.2,2.2 0 1,0 -4.4,0M119.61,439.8a2.2,2.2 0 1,0 4.4,0a2.2,2.2 0 1,0 -4.4,0M120.56,440.4a2.2,2.2 0 1,0 4.4,0a2.2,2.2 0 1,0 -4.4,0M121.5,440.4a2.2,2.2 0 1,0 4.4,0a2.2,2.2 0 1,0 -4.4,0M122.44,440.4a2.2,2.2 0 1,0 4.4,0a2.2,2.2 0 1,0 -4.4,0M123.39,439.77a2.2,2.2 0 1,0 4.4,0a2.2,2.2 0 1,0 -4.4,0M124.33,432.87a2.2,2.2 0 1,0 4.4,0a2.2,2.2 0 1,0 -4.4,0M125.27,430.12a2.2,2.2 0 1,0 4.4,0a2.2,2.2 0 1,0 -4.4,0M126.22,429.02a2.2,2.2 0 1,0 4.4,0a2.2,2.2 0 1,0 -4.4,0M127.16,427.55a2.2,2.2 0 1,0 4.4,0a2.2,2.2 0 1,0 -4.4,0M128.11,421.66a2.2,2.2 0 1,0 4.4,0a2.2,2.2 0 1,0 -4.4,0M129.05,424a2.2,2.2 0 1,0 4.4,0a2.2,2.2 0 1,0 -4.4,0M129.99,426.41a2.2,2.2 0 1,0 4.4,0a2.2,2.2 0 1,0 -4.4,0M130.94,429.56a2.2,2.2 0 1,0 4.4,0a2.2,2.2 0 1,0 -4.4,0M131.88,432.7a2.2,2.2 0 1,0 4.4,0a2.2,2.2 0 1,0 -4.4,0M132.82,435.85a2.2,2.2 0 1,0 4.4,0a2.2,2.2 0 1,0 -4.4,0M133.77,439a2.2,2.2 0 1,0 4.4,0a2.2,2.2 0 1,0 -4.4,0M134.71,442.14a2.2,2.2 0 1,0 4.4,0a2.2,2.2 0 1,0 -4.4,0M135.66,445.29a2.2,2.2 0 1,0 4.4,0a2.2,2.2 0 1,0 -4.4,0M136.6,448.48a2.2,2.2 0 1,0 4.4,0a2.2,2.2 0 1,0 -4.4,0M137.54,451.66a2.2,2.2 0 1,0 4.4,0a2.2,2.2 0 1,0 -4.4,0M138.49,454.85a2.2,2.2 0 1,0 4.4,0a2.2,2.2 0 1,0 -4.4,0M139.43,458.03a2.2,2.2 0 1,0 4.4,0a2.2,2.2 0 1,0 -4.4,0M140.38,461.22a2.2,2.2 0 1,0 4.4,0a2.2,2.2 0 1,0 -4.4,0M141.32,459.46a2.2,2.2 0 1,0 4.4,0a2.2,2.2 0 1,0 -4.4,0M142.26,457.57a2.2,2.2 0 1,0 4.4,0a2.2,2.2 0 1,0 -4.4,0M143.21,454.78a2.2,2.2 0 1,0 4.4,0a2.2,2.2 0 1,0 -4.4,0M144.15,451.95a2.2,2.2 0 1,0 4.4,0a2.2,2.2 0 1,0 -4.4,0M145.09,445.07a2.2,2.2 0 1,0 4.4,0a2.2,2.2 0 1,0 -4.4,0M146.04,437.96a2.2,2.2 0 1,0 4.4,0a2.2,2.2 0 1,0 -4.4,0M146.98,437.5a2.2,2.2 0 1,0 4.4,0a2.2,2.2 0 1,0 -4.4,0M147.93,437.5a2.2,2.2 0 1,0 4.4,0a2.2,2.2 0 1,0 -4.4,0M148.87,438.74a2.2,2.2 0 1,0 4.4,0a2.2,2.2 0 1,0 -4.4,0M149.81,440.09a2.2,2.2 0 1,0 4.4,0a2.2,2.2 0 1,0 -4.4,0M150.76,441.43a2.2,2.2 0 1,0 4.4,0a2.2,2.2 0 1,0 -4.4,0M151.7,442.78a2.2,2.2 0 1,0 4.4,0a2.2,2.2 0 1,0 -4.4,0M152.65,444.12a2.2,2.2 0 1,0 4.4,0a2.2,2.2 0 1,0 -4.4,0M153.59,445.39a2.2,2.2 0 1,0 4.4,0a2.2,2.2 0 1,0 -4.4,0M154.53,446.64a2.2,2.2 0 1,0 4.4,0a2.2,2.2 0 1,0 -4.4,0M155.48,447.9a2.2,2.2 0 1,0 4.4,0a2.2,2.2 0 1,0 -4.4,0M156.42,449.16a2.2,2.2 0 1,0 4.4,0a2.2,2.2 0 1,0 -4.4,0M157.36,450.42a2.2,2.2 0 1,0 4.4,0a2.2,2.2 0 1,0 -4.4,0M158.31,451.68a2.2,2.2 0 1,0 4.4,0a2.2,2.2 0 1,0 -4.4,0M159.25,447.54a2.2,2.2 0 1,0 4.4,0a2.2,2.2 0 1,0 -4.4,0M160.2,442.82a2.2,2.2 0 1,0 4.4,0a2.2,2.2 0 1,0 -4.4,0M161.14,439.34a2.2,2.2 0 1,0 4.4,0a2.2,2.2 0 1,0 -4.4,0M162.08,436.01a2.2,2.2 0 1,0 4.4,0a2.2,2.2 0 1,0 -4.4,0M163.03,429.42a2.2,2.2 0 1,0 4.4,0a2.2,2.2 0 1,0 -4.4,0M163.97,422.37a2.2,2.2 0 1,0 4.4,0a2.2,2.2 0 1,0 -4.4,0M164.91,422.62a2.2,2.2 0 1,0 4.4,0a2.2,2.2 0 1,0 -4.4,0M165.86,424.04a2.2,2.2 0 1,0 4.4,0a2.2,2.2 0 1,0 -4.4,0M166.8,425.45a2.2,2.2 0 1,0 4.4,0a2.2,2.2 0 1,0 -4.4,0M167.75,426.87a2.2,2.2 0 1,0 4.4,0a2.2,2.2 0 1,0 -4.4,0M168.69,428.54a2.2,2.2 0 1,0 4.4,0a2.2,2.2 0 1,0 -4.4,0M169.63,430.26a2.2,2.2 0 1,0 4.4,0a2.2,2.2 0 1,0 -4.4,0M170.58,431.99a2.2,2.2 0 1,0 4.4,0a2.2,2.2 0 1,0 -4.4,0M171.52,433.71a2.2,2.2 0 1,0 4.4,0a2.2,2.2 0 1,0 -4.4,0M172.47,435.43a2.2,2.2 0 1,0 4.4,0a2.2,2.2 0 1,0 -4.4,0M173.41,437.15a2.2,2.2 0 1,0 4.4,0a2.2,2.2 0 1,0 -4.4,0M174.35,438.63a2.2,2.2 0 1,0 4.4,0a2.2,2.2 0 1,0 -4.4,0M175.3,440.04a2.2,2.2 0 1,0 4.4,0a2.2,2.2 0 1,0 -4.4,0M176.24,441.46a2.2,2.2 0 1,0 4.4,0a2.2,2.2 0 1,0 -4.4,0M177.18,442.88a2.2,2.2 0 1,0 4.4,0a2.2,2.2 0 1,0 -4.4,0M178.13,434.9a2.2,2.2 0 1,0 4.4,0a2.2,2.2 0 1,0 -4.4,0M179.07,426.87a2.2,2.2 0 1,0 4.4,0a2.2,2.2 0 1,0 -4.4,0M180.02,422.34a2.2,2.2 0 1,0 4.4,0a2.2,2.2 0 1,0 -4.4,0M180.96,418.56a2.2,2.2 0 1,0 4.4,0a2.2,2.2 0 1,0 -4.4,0M181.9,417.95a2.2,2.2 0 1,0 4.4,0a2.2,2.2 0 1,0 -4.4,0M182.85,418.42a2.2,2.2 0 1,0 4.4,0a2.2,2.2 0 1,0 -4.4,0M183.79,418.9a2.2,2.2 0 1,0 4.4,0a2.2,2.2 0 1,0 -4.4,0M184.73,419.37a2.2,2.2 0 1,0 4.4,0a2.2,2.2 0 1,0 -4.4,0M185.68,420.18a2.2,2.2 0 1,0 4.4,0a2.2,2.2 0 1,0 -4.4,0M186.62,421.12a2.2,2.2 0 1,0 4.4,0a2.2,2.2 0 1,0 -4.4,0M187.57,422.07a2.2,2.2 0 1,0 4.4,0a2.2,2.2 0 1,0 -4.4,0M188.51,423.01a2.2,2.2 0 1,0 4.4,0a2.2,2.2 0 1,0 -4.4,0M189.45,424.14a2.2,2.2 0 1,0 4.4,0a2.2,2.2 0 1,0 -4.4,0M190.4,424.66a2.2,2.2 0 1,0 4.4,0a2.2,2.2 0 1,0 -4.4,0M191.34,425.14a2.2,2.2 0 1,0 4.4,0a2.2,2.2 0 1,0 -4.4,0M192.29,425.62a2.2,2.2 0 1,0 4.4,0a2.2,2.2 0 1,0 -4.4,0M193.23,426.1a2.2,2.2 0 1,0 4.4,0a2.2,2.2 0 1,0 -4.4,0M194.17,426.58a2.2,2.2 0 1,0 4.4,0a2.2,2.2 0 1,0 -4.4,0M195.12,427.06a2.2,2.2 0 1,0 4.4,0a2.2,2.2 0 1,0 -4.4,0M196.06,417.06a2.2,2.2 0 1,0 4.4,0a2.2,2.2 0 1,0 -4.4,0M197,415.27a2.2,2.2 0 1,0 4.4,0a2.2,2.2 0 1,0 -4.4,0M197.95,413.88a2.2,2.2 0 1,0 4.4,0a2.2,2.2 0 1,0 -4.4,0M198.89,408.45a2.2,2.2 0 1,0 4.4,0a2.2,2.2 0 1,0 -4.4,0M199.84,405.97a2.2,2.2 0 1,0 4.4,0a2.2,2.2 0 1,0 -4.4,0M200.78,409.25a2.2,2.2 0 1,0 4.4,0a2.2,2.2 0 1,0 -4.4,0M201.72,412.53a2.2,2.2 0 1,0 4.4,0a2.2,2.2 0 1,0 -4.4,0M202.67,416.27a2.2,2.2 0 1,0 4.4,0a2.2,2.2 0 1,0 -4.4,0M203.61,420.04a2.2,2.2 0 1,0 4.4,0a2.2,2.2 0 1,0 -4.4,0M204.55,423.82a2.2,2.2 0 1,0 4.4,0a2.2,2.2 0 1,0 -4.4,0M205.5,427.59a2.2,2.2 0 1,0 4.4,0a2.2,2.2 0 1,0 -4.4,0M206.44,430.95a2.2,2.2 0 1,0 4.4,0a2.2,2.2 0 1,0 -4.4,0M207.39,434.25a2.2,2.2 0 1,0 4.4,0a2.2,2.2 0 1,0 -4.4,0M208.33,437.56a2.2,2.2 0 1,0 4.4,0a2.2,2.2 0 1,0 -4.4,0M209.27,440.86a2.2,2.2 0 1,0 4.4,0a2.2,2.2 0 1,0 -4.4,0M210.22,443.98a2.2,2.2 0 1,0 4.4,0a2.2,2.2 0 1,0 -4.4,0M211.16,447.07a2.2,2.2 0 1,0 4.4,0a2.2,2.2 0 1,0 -4.4,0M212.11,450.16a2.2,2.2 0 1,0 4.4,0a2.2,2.2 0 1,0 -4.4,0M213.05,450.29a2.2,2.2 0 1,0 4.4,0a2.2,2.2 0 1,0 -4.4,0M213.99,449.65a2.2,2.2 0 1,0 4.4,0a2.2,2.2 0 1,0 -4.4,0M214.94,449.01a2.2,2.2 0 1,0 4.4,0a2.2,2.2 0 1,0 -4.4,0M215.88,445.78a2.2,2.2 0 1,0 4.4,0a2.2,2.2 0 1,0 -4.4,0M216.82,442a2.2,2.2 0 1,0 4.4,0a2.2,2.2 0 1,0 -4.4,0M217.77,432.54a2.2,2.2 0 1,0 4.4,0a2.2,2.2 0 1,0 -4.4,0M218.71,431.35a2.2,2.2 0 1,0 4.4,0a2.2,2.2 0 1,0 -4.4,0M219.66,433.27a2.2,2.2 0 1,0 4.4,0a2.2,2.2 0 1,0 -4.4,0M220.6,435.19a2.2,2.2 0 1,0 4.4,0a2.2,2.2 0 1,0 -4.4,0M221.54,435.6a2.2,2.2 0 1,0 4.4,0a2.2,2.2 0 1,0 -4.4,0M222.49,435.6a2.2,2.2 0 1,0 4.4,0a2.2,2.2 0 1,0 -4.4,0M223.43,435.6a2.2,2.2 0 1,0 4.4,0a2.2,2.2 0 1,0 -4.4,0M224.38,435.6a2.2,2.2 0 1,0 4.4,0a2.2,2.2 0 1,0 -4.4,0M225.32,436.6a2.2,2.2 0 1,0 4.4,0a2.2,2.2 0 1,0 -4.4,0M226.26,437.92a2.2,2.2 0 1,0 4.4,0a2.2,2.2 0 1,0 -4.4,0M227.21,439.24a2.2,2.2 0 1,0 4.4,0a2.2,2.2 0 1,0 -4.4,0M228.15,440.56a2.2,2.2 0 1,0 4.4,0a2.2,2.2 0 1,0 -4.4,0M229.09,441.87a2.2,2.2 0 1,0 4.4,0a2.2,2.2 0 1,0 -4.4,0M230.04,441.02a2.2,2.2 0 1,0 4.4,0a2.2,2.2 0 1,0 -4.4,0M230.98,439.14a2.2,2.2 0 1,0 4.4,0a2.2,2.2 0 1,0 -4.4,0M231.93,435.67a2.2,2.2 0 1,0 4.4,0a2.2,2.2 0 1,0 -4.4,0M232.87,431.4a2.2,2.2 0 1,0 4.4,0a2.2,2.2 0 1,0 -4.4,0M233.81,428.38a2.2,2.2 0 1,0 4.4,0a2.2,2.2 0 1,0 -4.4,0M234.76,426.05a2.2,2.2 0 1,0 4.4,0a2.2,2.2 0 1,0 -4.4,0M235.7,417.59a2.2,2.2 0 1,0 4.4,0a2.2,2.2 0 1,0 -4.4,0M236.64,415.73a2.2,2.2 0 1,0 4.4,0a2.2,2.2 0 1,0 -4.4,0M237.59,418.57a2.2,2.2 0 1,0 4.4,0a2.2,2.2 0 1,0 -4.4,0M238.53,421.4a2.2,2.2 0 1,0 4.4,0a2.2,2.2 0 1,0 -4.4,0M239.48,424.23a2.2,2.2 0 1,0 4.4,0a2.2,2.2 0 1,0 -4.4,0M240.42,426.74a2.2,2.2 0 1,0 4.4,0a2.2,2.2 0 1,0 -4.4,0M241.36,429.1a2.2,2.2 0 1,0 4.4,0a2.2,2.2 0 1,0 -4.4,0M242.31,431.45a2.2,2.2 0 1,0 4.4,0a2.2,2.2 0 1,0 -4.4,0M243.25,433.8a2.2,2.2 0 1,0 4.4,0a2.2,2.2 0 1,0 -4.4,0M244.2,436.15a2.2,2.2 0 1,0 4.4,0a2.2,2.2 0 1,0 -4.4,0M245.14,438.5a2.2,2.2 0 1,0 4.4,0a2.2,2.2 0 1,0 -4.4,0M246.08,440.86a2.2,2.2 0 1,0 4.4,0a2.2,2.2 0 1,0 -4.4,0M247.03,443.22a2.2,2.2 0 1,0 4.4,0a2.2,2.2 0 1,0 -4.4,0M247.97,445.58a2.2,2.2 0 1,0 4.4,0a2.2,2.2 0 1,0 -4.4,0M248.91,447.94a2.2,2.2 0 1,0 4.4,0a2.2,2.2 0 1,0 -4.4,0M249.86,443.88a2.2,2.2 0 1,0 4.4,0a2.2,2.2 0 1,0 -4.4,0M250.8,435.38a2.2,2.2 0 1,0 4.4,0a2.2,2.2 0 1,0 -4.4,0M251.75,431.19a2.2,2.2 0 1,0 4.4,0a2.2,2.2 0 1,0 -4.4,0M252.69,430.14a2.2,2.2 0 1,0 4.4,0a2.2,2.2 0 1,0 -4.4,0M253.63,429.08a2.2,2.2 0 1,0 4.4,0a2.2,2.2 0 1,0 -4.4,0M254.58,428.03a2.2,2.2 0 1,0 4.4,0a2.2,2.2 0 1,0 -4.4,0M255.52,429.25a2.2,2.2 0 1,0 4.4,0a2.2,2.2 0 1,0 -4.4,0M256.46,430.53a2.2,2.2 0 1,0 4.4,0a2.2,2.2 0 1,0 -4.4,0M257.41,431.81a2.2,2.2 0 1,0 4.4,0a2.2,2.2 0 1,0 -4.4,0M258.35,433.09a2.2,2.2 0 1,0 4.4,0a2.2,2.2 0 1,0 -4.4,0M259.3,434.29a2.2,2.2 0 1,0 4.4,0a2.2,2.2 0 1,0 -4.4,0M260.24,435.41a2.2,2.2 0 1,0 4.4,0a2.2,2.2 0 1,0 -4.4,0M261.18,435.02a2.2,2.2 0 1,0 4.4,0a2.2,2.2 0 1,0 -4.4,0M262.13,434.33a2.2,2.2 0 1,0 4.4,0a2.2,2.2 0 1,0 -4.4,0M263.07,433.63a2.2,2.2 0 1,0 4.4,0a2.2,2.2 0 1,0 -4.4,0M264.02,432.94a2.2,2.2 0 1,0 4.4,0a2.2,2.2 0 1,0 -4.4,0M264.96,432.98a2.2,2.2 0 1,0 4.4,0a2.2,2.2 0 1,0 -4.4,0M265.9,433.2a2.2,2.2 0 1,0 4.4,0a2.2,2.2 0 1,0 -4.4,0M266.85,433.43a2.2,2.2 0 1,0 4.4,0a2.2,2.2 0 1,0 -4.4,0M267.79,433.65a2.2,2.2 0 1,0 4.4,0a2.2,2.2 0 1,0 -4.4,0M268.73,430.41a2.2,2.2 0 1,0 4.4,0a2.2,2.2 0 1,0 -4.4,0M269.68,426.19a2.2,2.2 0 1,0 4.4,0a2.2,2.2 0 1,0 -4.4,0M270.62,423.27a2.2,2.2 0 1,0 4.4,0a2.2,2.2 0 1,0 -4.4,0M271.57,420.74a2.2,2.2 0 1,0 4.4,0a2.2,2.2 0 1,0 -4.4,0M272.51,419.04a2.2,2.2 0 1,0 4.4,0a2.2,2.2 0 1,0 -4.4,0M273.45,423.72a2.2,2.2 0 1,0 4.4,0a2.2,2.2 0 1,0 -4.4,0M274.4,428.4a2.2,2.2 0 1,0 4.4,0a2.2,2.2 0 1,0 -4.4,0M275.34,432.51a2.2,2.2 0 1,0 4.4,0a2.2,2.2 0 1,0 -4.4,0M276.28,436.35a2.2,2.2 0 1,0 4.4,0a2.2,2.2 0 1,0 -4.4,0M277.23,440.2a2.2,2.2 0 1,0 4.4,0a2.2,2.2 0 1,0 -4.4,0M278.17,443.83a2.2,2.2 0 1,0 4.4,0a2.2,2.2 0 1,0 -4.4,0M279.12,447.38a2.2,2.2 0 1,0 4.4,0a2.2,2.2 0 1,0 -4.4,0M280.06,450.93a2.2,2.2 0 1,0 4.4,0a2.2,2.2 0 1,0 -4.4,0M281,454.49a2.2,2.2 0 1,0 4.4,0a2.2,2.2 0 1,0 -4.4,0M281.95,457.65a2.2,2.2 0 1,0 4.4,0a2.2,2.2 0 1,0 -4.4,0M282.89,460.64a2.2,2.2 0 1,0 4.4,0a2.2,2.2 0 1,0 -4.4,0M283.84,463.63a2.2,2.2 0 1,0 4.4,0a2.2,2.2 0 1,0 -4.4,0M284.78,466.62a2.2,2.2 0 1,0 4.4,0a2.2,2.2 0 1,0 -4.4,0M285.72,468.13a2.2,2.2 0 1,0 4.4,0a2.2,2.2 0 1,0 -4.4,0M286.67,464.89a2.2,2.2 0 1,0 4.4,0a2.2,2.2 0 1,0 -4.4,0M287.61,461.64a2.2,2.2 0 1,0 4.4,0a2.2,2.2 0 1,0 -4.4,0M288.55,457.29a2.2,2.2 0 1,0 4.4,0a2.2,2.2 0 1,0 -4.4,0M289.5,452.17a2.2,2.2 0 1,0 4.4,0a2.2,2.2 0 1,0 -4.4,0M290.44,447.04a2.2,2.2 0 1,0 4.4,0a2.2,2.2 0 1,0 -4.4,0M291.39,445.69a2.2,2.2 0 1,0 4.4,0a2.2,2.2 0 1,0 -4.4,0M292.33,446.63a2.2,2.2 0 1,0 4.4,0a2.2,2.2 0 1,0 -4.4,0M293.27,447.57a2.2,2.2 0 1,0 4.4,0a2.2,2.2 0 1,0 -4.4,0M294.22,448.63a2.2,2.2 0 1,0 4.4,0a2.2,2.2 0 1,0 -4.4,0M295.16,449.77a2.2,2.2 0 1,0 4.4,0a2.2,2.2 0 1,0 -4.4,0M296.11,450.92a2.2,2.2 0 1,0 4.4,0a2.2,2.2 0 1,0 -4.4,0M297.05,452.06a2.2,2.2 0 1,0 4.4,0a2.2,2.2 0 1,0 -4.4,0M297.99,453.21a2.2,2.2 0 1,0 4.4,0a2.2,2.2 0 1,0 -4.4,0M298.94,454.24a2.2,2.2 0 1,0 4.4,0a2.2,2.2 0 1,0 -4.4,0M299.88,455.18a2.2,2.2 0 1,0 4.4,0a2.2,2.2 0 1,0 -4.4,0M300.82,456.12a2.2,2.2 0 1,0 4.4,0a2.2,2.2 0 1,0 -4.4,0M301.77,457.07a2.2,2.2 0 1,0 4.4,0a2.2,2.2 0 1,0 -4.4,0M302.71,454.67a2.2,2.2 0 1,0 4.4,0a2.2,2.2 0 1,0 -4.4,0M303.66,449.46a2.2,2.2 0 1,0 4.4,0a2.2,2.2 0 1,0 -4.4,0M304.6,444.71a2.2,2.2 0 1,0 4.4,0a2.2,2.2 0 1,0 -4.4,0M305.54,440.38a2.2,2.2 0 1,0 4.4,0a2.2,2.2 0 1,0 -4.4,0M306.49,436.05a2.2,2.2 0 1,0 4.4,0a2.2,2.2 0 1,0 -4.4,0M307.43,432.41a2.2,2.2 0 1,0 4.4,0a2.2,2.2 0 1,0 -4.4,0M308.37,429.58a2.2,2.2 0 1,0 4.4,0a2.2,2.2 0 1,0 -4.4,0M309.32,428.85a2.2,2.2 0 1,0 4.4,0a2.2,2.2 0 1,0 -4.4,0M310.26,430.75a2.2,2.2 0 1,0 4.4,0a2.2,2.2 0 1,0 -4.4,0M311.21,432.66a2.2,2.2 0 1,0 4.4,0a2.2,2.2 0 1,0 -4.4,0M312.15,434.57a2.2,2.2 0 1,0 4.4,0a2.2,2.2 0 1,0 -4.4,0M313.09,436.48a2.2,2.2 0 1,0 4.4,0a2.2,2.2 0 1,0 -4.4,0M314.04,438.37a2.2,2.2 0 1,0 4.4,0a2.2,2.2 0 1,0 -4.4,0M314.98,440.24a2.2,2.2 0 1,0 4.4,0a2.2,2.2 0 1,0 -4.4,0M315.93,442.12a2.2,2.2 0 1,0 4.4,0a2.2,2.2 0 1,0 -4.4,0M316.87,443.99a2.2,2.2 0 1,0 4.4,0a2.2,2.2 0 1,0 -4.4,0M317.81,445.86a2.2,2.2 0 1,0 4.4,0a2.2,2.2 0 1,0 -4.4,0M318.76,447.74a2.2,2.2 0 1,0 4.4,0a2.2,2.2 0 1,0 -4.4,0M319.7,449.61a2.2,2.2 0 1,0 4.4,0a2.2,2.2 0 1,0 -4.4,0M320.64,449.08a2.2,2.2 0 1,0 4.4,0a2.2,2.2 0 1,0 -4.4,0M321.59,444.36a2.2,2.2 0 1,0 4.4,0a2.2,2.2 0 1,0 -4.4,0M322.53,439.64a2.2,2.2 0 1,0 4.4,0a2.2,2.2 0 1,0 -4.4,0M323.48,434.92a2.2,2.2 0 1,0 4.4,0a2.2,2.2 0 1,0 -4.4,0M324.42,431.15a2.2,2.2 0 1,0 4.4,0a2.2,2.2 0 1,0 -4.4,0M325.36,429.23a2.2,2.2 0 1,0 4.4,0a2.2,2.2 0 1,0 -4.4,0M326.31,427.31a2.2,2.2 0 1,0 4.4,0a2.2,2.2 0 1,0 -4.4,0M327.25,426.47a2.2,2.2 0 1,0 4.4,0a2.2,2.2 0 1,0 -4.4,0M328.19,427.47a2.2,2.2 0 1,0 4.4,0a2.2,2.2 0 1,0 -4.4,0M329.14,428.47a2.2,2.2 0 1,0 4.4,0a2.2,2.2 0 1,0 -4.4,0M330.08,429.47a2.2,2.2 0 1,0 4.4,0a2.2,2.2 0 1,0 -4.4,0M331.03,430.47a2.2,2.2 0 1,0 4.4,0a2.2,2.2 0 1,0 -4.4,0M331.97,431.43a2.2,2.2 0 1,0 4.4,0a2.2,2.2 0 1,0 -4.4,0M332.91,431.81a2.2,2.2 0 1,0 4.4,0a2.2,2.2 0 1,0 -4.4,0M333.86,432.18a2.2,2.2 0 1,0 4.4,0a2.2,2.2 0 1,0 -4.4,0M334.8,432.56a2.2,2.2 0 1,0 4.4,0a2.2,2.2 0 1,0 -4.4,0M335.75,432.94a2.2,2.2 0 1,0 4.4,0a2.2,2.2 0 1,0 -4.4,0M336.69,433.32a2.2,2.2 0 1,0 4.4,0a2.2,2.2 0 1,0 -4.4,0M337.63,432.7a2.2,2.2 0 1,0 4.4,0a2.2,2.2 0 1,0 -4.4,0M338.58,431.8a2.2,2.2 0 1,0 4.4,0a2.2,2.2 0 1,0 -4.4,0M339.52,429.55a2.2,2.2 0 1,0 4.4,0a2.2,2.2 0 1,0 -4.4,0M340.46,426.2a2.2,2.2 0 1,0 4.4,0a2.2,2.2 0 1,0 -4.4,0M341.41,423.69a2.2,2.2 0 1,0 4.4,0a2.2,2.2 0 1,0 -4.4,0M342.35,422.27a2.2,2.2 0 1,0 4.4,0a2.2,2.2 0 1,0 -4.4,0M343.3,419.2a2.2,2.2 0 1,0 4.4,0a2.2,2.2 0 1,0 -4.4,0M344.24,414.93a2.2,2.2 0 1,0 4.4,0a2.2,2.2 0 1,0 -4.4,0M345.18,417.81a2.2,2.2 0 1,0 4.4,0a2.2,2.2 0 1,0 -4.4,0M346.13,420.73a2.2,2.2 0 1,0 4.4,0a2.2,2.2 0 1,0 -4.4,0M347.07,423.91a2.2,2.2 0 1,0 4.4,0a2.2,2.2 0 1,0 -4.4,0M348.01,427.08a2.2,2.2 0 1,0 4.4,0a2.2,2.2 0 1,0 -4.4,0M348.96,430.26a2.2,2.2 0 1,0 4.4,0a2.2,2.2 0 1,0 -4.4,0M349.9,433.5a2.2,2.2 0 1,0 4.4,0a2.2,2.2 0 1,0 -4.4,0M350.85,436.75a2.2,2.2 0 1,0 4.4,0a2.2,2.2 0 1,0 -4.4,0M351.79,440a2.2,2.2 0 1,0 4.4,0a2.2,2.2 0 1,0 -4.4,0M352.73,443.24a2.2,2.2 0 1,0 4.4,0a2.2,2.2 0 1,0 -4.4,0M353.68,446.83a2.2,2.2 0 1,0 4.4,0a2.2,2.2 0 1,0 -4.4,0M354.62,450.65a2.2,2.2 0 1,0 4.4,0a2.2,2.2 0 1,0 -4.4,0M355.57,454.46a2.2,2.2 0 1,0 4.4,0a2.2,2.2 0 1,0 -4.4,0M356.51,458.27a2.2,2.2 0 1,0 4.4,0a2.2,2.2 0 1,0 -4.4,0M357.45,462.09a2.2,2.2 0 1,0 4.4,0a2.2,2.2 0 1,0 -4.4,0M358.4,463.56a2.2,2.2 0 1,0 4.4,0a2.2,2.2 0 1,0 -4.4,0M359.34,459.91a2.2,2.2 0 1,0 4.4,0a2.2,2.2 0 1,0 -4.4,0M360.28,456.09a2.2,2.2 0 1,0 4.4,0a2.2,2.2 0 1,0 -4.4,0M361.23,450.38a2.2,2.2 0 1,0 4.4,0a2.2,2.2 0 1,0 -4.4,0M362.17,444.67a2.2,2.2 0 1,0 4.4,0a2.2,2.2 0 1,0 -4.4,0M363.12,442.21a2.2,2.2 0 1,0 4.4,0a2.2,2.2 0 1,0 -4.4,0M364.06,439.85a2.2,2.2 0 1,0 4.4,0a2.2,2.2 0 1,0 -4.4,0M365,440.3a2.2,2.2 0 1,0 4.4,0a2.2,2.2 0 1,0 -4.4,0M365.95,441.25a2.2,2.2 0 1,0 4.4,0a2.2,2.2 0 1,0 -4.4,0M366.89,442.19a2.2,2.2 0 1,0 4.4,0a2.2,2.2 0 1,0 -4.4,0M367.83,443.13a2.2,2.2 0 1,0 4.4,0a2.2,2.2 0 1,0 -4.4,0M368.78,444.08a2.2,2.2 0 1,0 4.4,0a2.2,2.2 0 1,0 -4.4,0M369.72,445.19a2.2,2.2 0 1,0 4.4,0a2.2,2.2 0 1,0 -4.4,0M370.67,446.45a2.2,2.2 0 1,0 4.4,0a2.2,2.2 0 1,0 -4.4,0M371.61,447.7a2.2,2.2 0 1,0 4.4,0a2.2,2.2 0 1,0 -4.4,0M372.55,448.95a2.2,2.2 0 1,0 4.4,0a2.2,2.2 0 1,0 -4.4,0M373.5,450.21a2.2,2.2 0 1,0 4.4,0a2.2,2.2 0 1,0 -4.4,0M374.44,451.46a2.2,2.2 0 1,0 4.4,0a2.2,2.2 0 1,0 -4.4,0M375.39,452.25a2.2,2.2 0 1,0 4.4,0a2.2,2.2 0 1,0 -4.4,0M376.33,448.43a2.2,2.2 0 1,0 4.4,0a2.2,2.2 0 1,0 -4.4,0M377.27,444.61a2.2,2.2 0 1,0 4.4,0a2.2,2.2 0 1,0 -4.4,0M378.22,438.95a2.2,2.2 0 1,0 4.4,0a2.2,2.2 0 1,0 -4.4,0M379.16,433.24a2.2,2.2 0 1,0 4.4,0a2.2,2.2 0 1,0 -4.4,0M380.1,428.53a2.2,2.2 0 1,0 4.4,0a2.2,2.2 0 1,0 -4.4,0M381.05,423.99a2.2,2.2 0 1,0 4.4,0a2.2,2.2 0 1,0 -4.4,0M381.99,423.3a2.2,2.2 0 1,0 4.4,0a2.2,2.2 0 1,0 -4.4,0M382.94,424.89a2.2,2.2 0 1,0 4.4,0a2.2,2.2 0 1,0 -4.4,0M383.88,426.47a2.2,2.2 0 1,0 4.4,0a2.2,2.2 0 1,0 -4.4,0M384.82,428.06a2.2,2.2 0 1,0 4.4,0a2.2,2.2 0 1,0 -4.4,0M385.77,429.65a2.2,2.2 0 1,0 4.4,0a2.2,2.2 0 1,0 -4.4,0M386.71,431.24a2.2,2.2 0 1,0 4.4,0a2.2,2.2 0 1,0 -4.4,0M387.66,433.01a2.2,2.2 0 1,0 4.4,0a2.2,2.2 0 1,0 -4.4,0M388.6,435.24a2.2,2.2 0 1,0 4.4,0a2.2,2.2 0 1,0 -4.4,0M389.54,437.48a2.2,2.2 0 1,0 4.4,0a2.2,2.2 0 1,0 -4.4,0M390.49,439.72a2.2,2.2 0 1,0 4.4,0a2.2,2.2 0 1,0 -4.4,0M391.43,441.96a2.2,2.2 0 1,0 4.4,0a2.2,2.2 0 1,0 -4.4,0M392.37,444.2a2.2,2.2 0 1,0 4.4,0a2.2,2.2 0 1,0 -4.4,0M393.32,439.55a2.2,2.2 0 1,0 4.4,0a2.2,2.2 0 1,0 -4.4,0M394.26,433.84a2.2,2.2 0 1,0 4.4,0a2.2,2.2 0 1,0 -4.4,0M395.21,428.1a2.2,2.2 0 1,0 4.4,0a2.2,2.2 0 1,0 -4.4,0M396.15,424.66a2.2,2.2 0 1,0 4.4,0a2.2,2.2 0 1,0 -4.4,0M397.09,422.28a2.2,2.2 0 1,0 4.4,0a2.2,2.2 0 1,0 -4.4,0M398.04,419.89a2.2,2.2 0 1,0 4.4,0a2.2,2.2 0 1,0 -4.4,0M398.98,417.51a2.2,2.2 0 1,0 4.4,0a2.2,2.2 0 1,0 -4.4,0M399.92,416.64a2.2,2.2 0 1,0 4.4,0a2.2,2.2 0 1,0 -4.4,0M400.87,417.6a2.2,2.2 0 1,0 4.4,0a2.2,2.2 0 1,0 -4.4,0M401.81,418.57a2.2,2.2 0 1,0 4.4,0a2.2,2.2 0 1,0 -4.4,0M402.76,419.54a2.2,2.2 0 1,0 4.4,0a2.2,2.2 0 1,0 -4.4,0M403.7,420.5a2.2,2.2 0 1,0 4.4,0a2.2,2.2 0 1,0 -4.4,0" fill="#0000ff"/>
<rect x="314.4" y="381.9" width="86.5" height="32.4" fill="#ffffff"/>
<text x="317" y="393.6" font-size="11.2" font-weight="bold" font-style="normal" text-anchor="start" fill="#1e1e1e" stroke="#1e1e1e" stroke-width="0.3" transform="translate(317 393.6) scale(1 1.08) translate(-317 -393.6)">Nonlinear error</text>
<line x1="339.2" y1="403.4" x2="353" y2="403.4" stroke="#0000ff" stroke-width="1.5" stroke-linecap="butt"/>
<circle cx="345.8" cy="403.4" r="1.9" fill="#0000ff"/>
<text x="47.25" y="516.2" font-size="12.1" font-weight="bold" font-style="normal" text-anchor="middle" fill="#1e1e1e" stroke="#1e1e1e" stroke-width="0.15" transform="translate(47.25 516.2) scale(1 1.13) translate(-47.25 -516.2)">0</text>
<text x="118.98" y="516.2" font-size="12.1" font-weight="bold" font-style="normal" text-anchor="middle" fill="#1e1e1e" stroke="#1e1e1e" stroke-width="0.15" transform="translate(118.98 516.2) scale(1 1.13) translate(-118.98 -516.2)">20</text>
<text x="190.71" y="516.2" font-size="12.1" font-weight="bold" font-style="normal" text-anchor="middle" fill="#1e1e1e" stroke="#1e1e1e" stroke-width="0.15" transform="translate(190.71 516.2) scale(1 1.13) translate(-190.71 -516.2)">40</text>
<text x="262.44" y="516.2" font-size="12.1" font-weight="bold" font-style="normal" text-anchor="middle" fill="#1e1e1e" stroke="#1e1e1e" stroke-width="0.15" transform="translate(262.44 516.2) scale(1 1.13) translate(-262.44 -516.2)">60</text>
<text x="334.17" y="516.2" font-size="12.1" font-weight="bold" font-style="normal" text-anchor="middle" fill="#1e1e1e" stroke="#1e1e1e" stroke-width="0.15" transform="translate(334.17 516.2) scale(1 1.13) translate(-334.17 -516.2)">80</text>
<text x="405.9" y="516.2" font-size="12.1" font-weight="bold" font-style="normal" text-anchor="middle" fill="#1e1e1e" stroke="#1e1e1e" stroke-width="0.15" transform="translate(405.9 516.2) scale(1 1.13) translate(-405.9 -516.2)">100</text>
<text x="42.4" y="381.55" font-size="11.8" font-weight="bold" font-style="normal" text-anchor="end" fill="#1e1e1e" stroke="#1e1e1e" stroke-width="0.3" transform="translate(42.4 381.55) scale(1 1.11) translate(-42.4 -381.55)">0.1</text>
<text x="42.4" y="412.34" font-size="11.8" font-weight="bold" font-style="normal" text-anchor="end" fill="#1e1e1e" stroke="#1e1e1e" stroke-width="0.3" transform="translate(42.4 412.34) scale(1 1.11) translate(-42.4 -412.34)">0.05</text>
<text x="42.4" y="443.12" font-size="11.8" font-weight="bold" font-style="normal" text-anchor="end" fill="#1e1e1e" stroke="#1e1e1e" stroke-width="0.3" transform="translate(42.4 443.12) scale(1 1.11) translate(-42.4 -443.12)">0</text>
<text x="42.4" y="473.91" font-size="11.8" font-weight="bold" font-style="normal" text-anchor="end" fill="#1e1e1e" stroke="#1e1e1e" stroke-width="0.3" transform="translate(42.4 473.91) scale(1 1.11) translate(-42.4 -473.91)">-0.05</text>
<text x="42.4" y="504.7" font-size="11.8" font-weight="bold" font-style="normal" text-anchor="end" fill="#1e1e1e" stroke="#1e1e1e" stroke-width="0.3" transform="translate(42.4 504.7) scale(1 1.11) translate(-42.4 -504.7)">-0.1</text>
<text x="227" y="522.4" font-size="13.1" font-weight="bold" font-style="normal" text-anchor="middle" fill="#1e1e1e" stroke="#1e1e1e" stroke-width="0.3">Time (s)</text>
<text x="16.5" y="439.5" font-size="13.6" font-weight="bold" font-style="normal" text-anchor="middle" fill="#1e1e1e" stroke="#1e1e1e" stroke-width="0.3" transform="rotate(-90 16.5 439.5)">Nonlinear error (deg)</text>
<text x="208.5" y="543.7" font-size="12.5" font-weight="normal" font-style="normal" text-anchor="middle" fill="#1e1e1e" stroke="#1e1e1e" stroke-width="0.2">(<tspan font-weight="bold">c</tspan>)</text>
</svg>
</body></html>
